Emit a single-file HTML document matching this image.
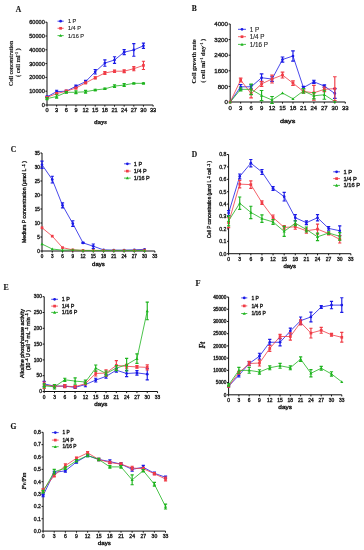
<!DOCTYPE html>
<html><head><meta charset="utf-8"><style>
html,body{margin:0;padding:0;background:#fff;width:364px;height:550px;overflow:hidden}
svg{display:block;will-change:transform}
</style></head><body>
<svg width="364" height="550" viewBox="0 0 364 550">
<rect width="364" height="550" fill="#fff"/>
<path d="M47.00 22.20V105.00H153.09" fill="none" stroke="#111" stroke-width="1.0"/>
<path d="M45.40 105.00H47.00" stroke="#111" stroke-width="1.0"/>
<text x="44.80" y="107.02" font-size="5.6" text-anchor="end" font-weight="normal" font-family='"Liberation Sans", sans-serif' fill="#222" stroke="#222" stroke-width="0.35">0</text>
<path d="M45.40 91.20H47.00" stroke="#111" stroke-width="1.0"/>
<text x="44.80" y="93.22" font-size="5.6" text-anchor="end" font-weight="normal" font-family='"Liberation Sans", sans-serif' fill="#222" stroke="#222" stroke-width="0.35">10000</text>
<path d="M45.40 77.40H47.00" stroke="#111" stroke-width="1.0"/>
<text x="44.80" y="79.42" font-size="5.6" text-anchor="end" font-weight="normal" font-family='"Liberation Sans", sans-serif' fill="#222" stroke="#222" stroke-width="0.35">20000</text>
<path d="M45.40 63.60H47.00" stroke="#111" stroke-width="1.0"/>
<text x="44.80" y="65.62" font-size="5.6" text-anchor="end" font-weight="normal" font-family='"Liberation Sans", sans-serif' fill="#222" stroke="#222" stroke-width="0.35">30000</text>
<path d="M45.40 49.80H47.00" stroke="#111" stroke-width="1.0"/>
<text x="44.80" y="51.82" font-size="5.6" text-anchor="end" font-weight="normal" font-family='"Liberation Sans", sans-serif' fill="#222" stroke="#222" stroke-width="0.35">40000</text>
<path d="M45.40 36.00H47.00" stroke="#111" stroke-width="1.0"/>
<text x="44.80" y="38.02" font-size="5.6" text-anchor="end" font-weight="normal" font-family='"Liberation Sans", sans-serif' fill="#222" stroke="#222" stroke-width="0.35">50000</text>
<path d="M45.40 22.20H47.00" stroke="#111" stroke-width="1.0"/>
<text x="44.80" y="24.22" font-size="5.6" text-anchor="end" font-weight="normal" font-family='"Liberation Sans", sans-serif' fill="#222" stroke="#222" stroke-width="0.35">60000</text>
<path d="M47.00 105.00V106.60" stroke="#111" stroke-width="1.0"/>
<text x="47.00" y="112.22" font-size="5.6" text-anchor="middle" font-weight="normal" font-family='"Liberation Sans", sans-serif' fill="#222" stroke="#222" stroke-width="0.35">0</text>
<path d="M56.64 105.00V106.60" stroke="#111" stroke-width="1.0"/>
<text x="56.64" y="112.22" font-size="5.6" text-anchor="middle" font-weight="normal" font-family='"Liberation Sans", sans-serif' fill="#222" stroke="#222" stroke-width="0.35">3</text>
<path d="M66.29 105.00V106.60" stroke="#111" stroke-width="1.0"/>
<text x="66.29" y="112.22" font-size="5.6" text-anchor="middle" font-weight="normal" font-family='"Liberation Sans", sans-serif' fill="#222" stroke="#222" stroke-width="0.35">6</text>
<path d="M75.94 105.00V106.60" stroke="#111" stroke-width="1.0"/>
<text x="75.94" y="112.22" font-size="5.6" text-anchor="middle" font-weight="normal" font-family='"Liberation Sans", sans-serif' fill="#222" stroke="#222" stroke-width="0.35">9</text>
<path d="M85.58 105.00V106.60" stroke="#111" stroke-width="1.0"/>
<text x="85.58" y="112.22" font-size="5.6" text-anchor="middle" font-weight="normal" font-family='"Liberation Sans", sans-serif' fill="#222" stroke="#222" stroke-width="0.35">12</text>
<path d="M95.22 105.00V106.60" stroke="#111" stroke-width="1.0"/>
<text x="95.22" y="112.22" font-size="5.6" text-anchor="middle" font-weight="normal" font-family='"Liberation Sans", sans-serif' fill="#222" stroke="#222" stroke-width="0.35">15</text>
<path d="M104.87 105.00V106.60" stroke="#111" stroke-width="1.0"/>
<text x="104.87" y="112.22" font-size="5.6" text-anchor="middle" font-weight="normal" font-family='"Liberation Sans", sans-serif' fill="#222" stroke="#222" stroke-width="0.35">18</text>
<path d="M114.52 105.00V106.60" stroke="#111" stroke-width="1.0"/>
<text x="114.52" y="112.22" font-size="5.6" text-anchor="middle" font-weight="normal" font-family='"Liberation Sans", sans-serif' fill="#222" stroke="#222" stroke-width="0.35">21</text>
<path d="M124.16 105.00V106.60" stroke="#111" stroke-width="1.0"/>
<text x="124.16" y="112.22" font-size="5.6" text-anchor="middle" font-weight="normal" font-family='"Liberation Sans", sans-serif' fill="#222" stroke="#222" stroke-width="0.35">24</text>
<path d="M133.81 105.00V106.60" stroke="#111" stroke-width="1.0"/>
<text x="133.81" y="112.22" font-size="5.6" text-anchor="middle" font-weight="normal" font-family='"Liberation Sans", sans-serif' fill="#222" stroke="#222" stroke-width="0.35">27</text>
<path d="M143.45 105.00V106.60" stroke="#111" stroke-width="1.0"/>
<text x="143.45" y="112.22" font-size="5.6" text-anchor="middle" font-weight="normal" font-family='"Liberation Sans", sans-serif' fill="#222" stroke="#222" stroke-width="0.35">30</text>
<path d="M153.09 105.00V106.60" stroke="#111" stroke-width="1.0"/>
<text x="153.09" y="112.22" font-size="5.6" text-anchor="middle" font-weight="normal" font-family='"Liberation Sans", sans-serif' fill="#222" stroke="#222" stroke-width="0.35">33</text>
<text x="100.45" y="124.05" font-size="6.8" text-anchor="middle" font-weight="bold" font-family='"Liberation Serif", serif' fill="#111" stroke="#111" stroke-width="0.25" textLength="12.9" lengthAdjust="spacingAndGlyphs">days</text>
<text x="15.80" y="11.60" font-size="7.5" text-anchor="start" font-weight="bold" font-family='"Liberation Serif", serif' fill="#111" stroke="#111" stroke-width="0.12">A</text>
<path d="M47.00 96.86L56.64 91.61L66.29 91.20L75.94 86.23L85.58 81.68L95.22 71.74L104.87 63.05L114.52 60.01L124.16 52.15L133.81 49.94L143.45 45.80" fill="none" stroke="#1a1ae6" stroke-width="0.8" stroke-linejoin="round"/>
<path d="M47.00 97.41L56.64 93.55L66.29 91.20L75.94 88.03L85.58 82.92L95.22 77.81L104.87 72.98L114.52 71.19L124.16 71.19L133.81 68.71L143.45 65.39" fill="none" stroke="#f03c46" stroke-width="0.8" stroke-linejoin="round"/>
<path d="M47.00 98.65L56.64 96.44L66.29 92.30L75.94 92.30L85.58 91.75L95.22 89.96L104.87 88.85L114.52 86.09L124.16 85.06L133.81 83.33L143.45 83.33" fill="none" stroke="#1eb41e" stroke-width="0.8" stroke-linejoin="round"/>
<path d="M47.00 96.17V97.55M45.40 96.17H48.60M45.40 97.55H48.60" stroke="#1a1ae6" stroke-width="1.15" fill="none"/>
<circle cx="47.00" cy="96.86" r="1.35" fill="#1a1ae6"/>
<path d="M56.64 90.23V92.99M55.04 90.23H58.24M55.04 92.99H58.24" stroke="#1a1ae6" stroke-width="1.15" fill="none"/>
<circle cx="56.64" cy="91.61" r="1.35" fill="#1a1ae6"/>
<path d="M66.29 90.37V92.03M64.69 90.37H67.89M64.69 92.03H67.89" stroke="#1a1ae6" stroke-width="1.15" fill="none"/>
<circle cx="66.29" cy="91.20" r="1.35" fill="#1a1ae6"/>
<path d="M75.94 85.13V87.34M74.34 85.13H77.53M74.34 87.34H77.53" stroke="#1a1ae6" stroke-width="1.15" fill="none"/>
<circle cx="75.94" cy="86.23" r="1.35" fill="#1a1ae6"/>
<path d="M85.58 80.30V83.06M83.98 80.30H87.18M83.98 83.06H87.18" stroke="#1a1ae6" stroke-width="1.15" fill="none"/>
<circle cx="85.58" cy="81.68" r="1.35" fill="#1a1ae6"/>
<path d="M95.22 69.53V73.95M93.62 69.53H96.82M93.62 73.95H96.82" stroke="#1a1ae6" stroke-width="1.15" fill="none"/>
<circle cx="95.22" cy="71.74" r="1.35" fill="#1a1ae6"/>
<path d="M104.87 59.87V66.22M103.27 59.87H106.47M103.27 66.22H106.47" stroke="#1a1ae6" stroke-width="1.15" fill="none"/>
<circle cx="104.87" cy="63.05" r="1.35" fill="#1a1ae6"/>
<path d="M114.52 56.70V63.32M112.92 56.70H116.11M112.92 63.32H116.11" stroke="#1a1ae6" stroke-width="1.15" fill="none"/>
<circle cx="114.52" cy="60.01" r="1.35" fill="#1a1ae6"/>
<path d="M124.16 49.66V54.63M122.56 49.66H125.76M122.56 54.63H125.76" stroke="#1a1ae6" stroke-width="1.15" fill="none"/>
<circle cx="124.16" cy="52.15" r="1.35" fill="#1a1ae6"/>
<path d="M133.81 43.59V56.29M132.21 43.59H135.41M132.21 56.29H135.41" stroke="#1a1ae6" stroke-width="1.15" fill="none"/>
<circle cx="133.81" cy="49.94" r="1.35" fill="#1a1ae6"/>
<path d="M143.45 43.18V48.42M141.85 43.18H145.05M141.85 48.42H145.05" stroke="#1a1ae6" stroke-width="1.15" fill="none"/>
<circle cx="143.45" cy="45.80" r="1.35" fill="#1a1ae6"/>
<path d="M47.00 96.86V97.96M45.40 96.86H48.60M45.40 97.96H48.60" stroke="#f03c46" stroke-width="1.15" fill="none"/>
<rect x="45.65" y="96.06" width="2.70" height="2.70" fill="#f03c46"/>
<path d="M56.64 92.72V94.37M55.04 92.72H58.24M55.04 94.37H58.24" stroke="#f03c46" stroke-width="1.15" fill="none"/>
<rect x="55.29" y="92.20" width="2.70" height="2.70" fill="#f03c46"/>
<path d="M66.29 90.10V92.30M64.69 90.10H67.89M64.69 92.30H67.89" stroke="#f03c46" stroke-width="1.15" fill="none"/>
<rect x="64.94" y="89.85" width="2.70" height="2.70" fill="#f03c46"/>
<path d="M75.94 87.20V88.85M74.34 87.20H77.53M74.34 88.85H77.53" stroke="#f03c46" stroke-width="1.15" fill="none"/>
<rect x="74.59" y="86.68" width="2.70" height="2.70" fill="#f03c46"/>
<path d="M85.58 82.09V83.75M83.98 82.09H87.18M83.98 83.75H87.18" stroke="#f03c46" stroke-width="1.15" fill="none"/>
<rect x="84.23" y="81.57" width="2.70" height="2.70" fill="#f03c46"/>
<path d="M95.22 76.71V78.92M93.62 76.71H96.82M93.62 78.92H96.82" stroke="#f03c46" stroke-width="1.15" fill="none"/>
<rect x="93.88" y="76.46" width="2.70" height="2.70" fill="#f03c46"/>
<path d="M104.87 71.60V74.36M103.27 71.60H106.47M103.27 74.36H106.47" stroke="#f03c46" stroke-width="1.15" fill="none"/>
<rect x="103.52" y="71.63" width="2.70" height="2.70" fill="#f03c46"/>
<path d="M114.52 69.95V72.43M112.92 69.95H116.11M112.92 72.43H116.11" stroke="#f03c46" stroke-width="1.15" fill="none"/>
<rect x="113.17" y="69.84" width="2.70" height="2.70" fill="#f03c46"/>
<path d="M124.16 69.81V72.57M122.56 69.81H125.76M122.56 72.57H125.76" stroke="#f03c46" stroke-width="1.15" fill="none"/>
<rect x="122.81" y="69.84" width="2.70" height="2.70" fill="#f03c46"/>
<path d="M133.81 66.64V70.78M132.21 66.64H135.41M132.21 70.78H135.41" stroke="#f03c46" stroke-width="1.15" fill="none"/>
<rect x="132.46" y="67.36" width="2.70" height="2.70" fill="#f03c46"/>
<path d="M143.45 61.25V69.53M141.85 61.25H145.05M141.85 69.53H145.05" stroke="#f03c46" stroke-width="1.15" fill="none"/>
<rect x="142.10" y="64.04" width="2.70" height="2.70" fill="#f03c46"/>
<path d="M47.00 97.55V99.76M45.40 97.55H48.60M45.40 99.76H48.60" stroke="#1eb41e" stroke-width="1.15" fill="none"/>
<path d="M45.45 99.89L48.55 99.89L47.00 97.10Z" fill="#1eb41e"/>
<path d="M56.64 94.79V98.10M55.04 94.79H58.24M55.04 98.10H58.24" stroke="#1eb41e" stroke-width="1.15" fill="none"/>
<path d="M55.09 97.69L58.20 97.69L56.64 94.89Z" fill="#1eb41e"/>
<path d="M66.29 91.48V93.13M64.69 91.48H67.89M64.69 93.13H67.89" stroke="#1eb41e" stroke-width="1.15" fill="none"/>
<path d="M64.74 93.55L67.84 93.55L66.29 90.75Z" fill="#1eb41e"/>
<path d="M75.94 90.92V93.68M74.34 90.92H77.53M74.34 93.68H77.53" stroke="#1eb41e" stroke-width="1.15" fill="none"/>
<path d="M74.38 93.55L77.49 93.55L75.94 90.75Z" fill="#1eb41e"/>
<path d="M85.58 90.37V93.13M83.98 90.37H87.18M83.98 93.13H87.18" stroke="#1eb41e" stroke-width="1.15" fill="none"/>
<path d="M84.03 92.99L87.13 92.99L85.58 90.20Z" fill="#1eb41e"/>
<path d="M95.22 89.27V90.65M93.62 89.27H96.82M93.62 90.65H96.82" stroke="#1eb41e" stroke-width="1.15" fill="none"/>
<path d="M93.67 91.20L96.78 91.20L95.22 88.41Z" fill="#1eb41e"/>
<path d="M104.87 88.16V89.54M103.27 88.16H106.47M103.27 89.54H106.47" stroke="#1eb41e" stroke-width="1.15" fill="none"/>
<path d="M103.32 90.10L106.42 90.10L104.87 87.30Z" fill="#1eb41e"/>
<path d="M114.52 84.85V87.34M112.92 84.85H116.11M112.92 87.34H116.11" stroke="#1eb41e" stroke-width="1.15" fill="none"/>
<path d="M112.96 87.34L116.07 87.34L114.52 84.54Z" fill="#1eb41e"/>
<path d="M124.16 83.68V86.44M122.56 83.68H125.76M122.56 86.44H125.76" stroke="#1eb41e" stroke-width="1.15" fill="none"/>
<path d="M122.61 86.30L125.71 86.30L124.16 83.51Z" fill="#1eb41e"/>
<path d="M133.81 82.78V83.89M132.21 82.78H135.41M132.21 83.89H135.41" stroke="#1eb41e" stroke-width="1.15" fill="none"/>
<path d="M132.25 84.58L135.36 84.58L133.81 81.78Z" fill="#1eb41e"/>
<path d="M143.45 82.78V83.89M141.85 82.78H145.05M141.85 83.89H145.05" stroke="#1eb41e" stroke-width="1.15" fill="none"/>
<path d="M141.90 84.58L145.00 84.58L143.45 81.78Z" fill="#1eb41e"/>
<path d="M57.50 21.20H63.70" stroke="#1a1ae6" stroke-width="0.8"/>
<circle cx="60.60" cy="21.20" r="1.35" fill="#1a1ae6"/>
<text x="67.90" y="23.22" font-size="5.6" text-anchor="start" font-weight="normal" font-family='"Liberation Sans", sans-serif' fill="#222" stroke="#222" stroke-width="0.12">1 P</text>
<path d="M57.50 28.30H63.70" stroke="#f03c46" stroke-width="0.8"/>
<rect x="59.25" y="26.95" width="2.70" height="2.70" fill="#f03c46"/>
<text x="67.90" y="30.32" font-size="5.6" text-anchor="start" font-weight="normal" font-family='"Liberation Sans", sans-serif' fill="#222" stroke="#222" stroke-width="0.12">1/4 P</text>
<path d="M57.50 35.60H63.70" stroke="#1eb41e" stroke-width="0.8"/>
<path d="M59.05 36.84L62.15 36.84L60.60 34.05Z" fill="#1eb41e"/>
<text x="67.90" y="37.62" font-size="5.6" text-anchor="start" font-weight="normal" font-family='"Liberation Sans", sans-serif' fill="#222" stroke="#222" stroke-width="0.12">1/16 P</text>
<text x="12.60" y="63.40" font-size="5.8" text-anchor="middle" font-weight="bold" font-family='"Liberation Serif", serif' fill="#111" stroke="#111" stroke-width="0.12" textLength="45" lengthAdjust="spacingAndGlyphs" transform="rotate(-90 12.60 63.40)">Cell concentration</text>
<text x="20.40" y="62.70" font-size="5.8" text-anchor="middle" font-weight="bold" font-family='"Liberation Serif", serif' fill="#111" stroke="#111" stroke-width="0.12" textLength="28.6" lengthAdjust="spacingAndGlyphs" transform="rotate(-90 20.40 62.70)">( cell ml<tspan dy="-2" font-size="3.6">-1</tspan><tspan dy="2"> )</tspan></text>
<path d="M230.20 24.00V102.00H345.27" fill="none" stroke="#111" stroke-width="1.0"/>
<path d="M228.60 102.00H230.20" stroke="#111" stroke-width="1.0"/>
<text x="228.00" y="104.23" font-size="6.2" text-anchor="end" font-weight="normal" font-family='"Liberation Sans", sans-serif' fill="#222" stroke="#222" stroke-width="0.35">0</text>
<path d="M228.60 86.40H230.20" stroke="#111" stroke-width="1.0"/>
<text x="228.00" y="88.63" font-size="6.2" text-anchor="end" font-weight="normal" font-family='"Liberation Sans", sans-serif' fill="#222" stroke="#222" stroke-width="0.35">800</text>
<path d="M228.60 70.80H230.20" stroke="#111" stroke-width="1.0"/>
<text x="228.00" y="73.03" font-size="6.2" text-anchor="end" font-weight="normal" font-family='"Liberation Sans", sans-serif' fill="#222" stroke="#222" stroke-width="0.35">1600</text>
<path d="M228.60 55.20H230.20" stroke="#111" stroke-width="1.0"/>
<text x="228.00" y="57.43" font-size="6.2" text-anchor="end" font-weight="normal" font-family='"Liberation Sans", sans-serif' fill="#222" stroke="#222" stroke-width="0.35">2400</text>
<path d="M228.60 39.60H230.20" stroke="#111" stroke-width="1.0"/>
<text x="228.00" y="41.83" font-size="6.2" text-anchor="end" font-weight="normal" font-family='"Liberation Sans", sans-serif' fill="#222" stroke="#222" stroke-width="0.35">3200</text>
<path d="M228.60 24.00H230.20" stroke="#111" stroke-width="1.0"/>
<text x="228.00" y="26.23" font-size="6.2" text-anchor="end" font-weight="normal" font-family='"Liberation Sans", sans-serif' fill="#222" stroke="#222" stroke-width="0.35">4000</text>
<path d="M230.20 102.00V103.60" stroke="#111" stroke-width="1.0"/>
<text x="230.20" y="110.16" font-size="6.0" text-anchor="middle" font-weight="normal" font-family='"Liberation Sans", sans-serif' fill="#222" stroke="#222" stroke-width="0.35">0</text>
<path d="M240.66 102.00V103.60" stroke="#111" stroke-width="1.0"/>
<text x="240.66" y="110.16" font-size="6.0" text-anchor="middle" font-weight="normal" font-family='"Liberation Sans", sans-serif' fill="#222" stroke="#222" stroke-width="0.35">3</text>
<path d="M251.12 102.00V103.60" stroke="#111" stroke-width="1.0"/>
<text x="251.12" y="110.16" font-size="6.0" text-anchor="middle" font-weight="normal" font-family='"Liberation Sans", sans-serif' fill="#222" stroke="#222" stroke-width="0.35">6</text>
<path d="M261.58 102.00V103.60" stroke="#111" stroke-width="1.0"/>
<text x="261.58" y="110.16" font-size="6.0" text-anchor="middle" font-weight="normal" font-family='"Liberation Sans", sans-serif' fill="#222" stroke="#222" stroke-width="0.35">9</text>
<path d="M272.04 102.00V103.60" stroke="#111" stroke-width="1.0"/>
<text x="272.04" y="110.16" font-size="6.0" text-anchor="middle" font-weight="normal" font-family='"Liberation Sans", sans-serif' fill="#222" stroke="#222" stroke-width="0.35">12</text>
<path d="M282.50 102.00V103.60" stroke="#111" stroke-width="1.0"/>
<text x="282.50" y="110.16" font-size="6.0" text-anchor="middle" font-weight="normal" font-family='"Liberation Sans", sans-serif' fill="#222" stroke="#222" stroke-width="0.35">15</text>
<path d="M292.97 102.00V103.60" stroke="#111" stroke-width="1.0"/>
<text x="292.97" y="110.16" font-size="6.0" text-anchor="middle" font-weight="normal" font-family='"Liberation Sans", sans-serif' fill="#222" stroke="#222" stroke-width="0.35">18</text>
<path d="M303.43 102.00V103.60" stroke="#111" stroke-width="1.0"/>
<text x="303.43" y="110.16" font-size="6.0" text-anchor="middle" font-weight="normal" font-family='"Liberation Sans", sans-serif' fill="#222" stroke="#222" stroke-width="0.35">21</text>
<path d="M313.89 102.00V103.60" stroke="#111" stroke-width="1.0"/>
<text x="313.89" y="110.16" font-size="6.0" text-anchor="middle" font-weight="normal" font-family='"Liberation Sans", sans-serif' fill="#222" stroke="#222" stroke-width="0.35">24</text>
<path d="M324.35 102.00V103.60" stroke="#111" stroke-width="1.0"/>
<text x="324.35" y="110.16" font-size="6.0" text-anchor="middle" font-weight="normal" font-family='"Liberation Sans", sans-serif' fill="#222" stroke="#222" stroke-width="0.35">27</text>
<path d="M334.81 102.00V103.60" stroke="#111" stroke-width="1.0"/>
<text x="334.81" y="110.16" font-size="6.0" text-anchor="middle" font-weight="normal" font-family='"Liberation Sans", sans-serif' fill="#222" stroke="#222" stroke-width="0.35">30</text>
<path d="M345.27 102.00V103.60" stroke="#111" stroke-width="1.0"/>
<text x="345.27" y="110.16" font-size="6.0" text-anchor="middle" font-weight="normal" font-family='"Liberation Sans", sans-serif' fill="#222" stroke="#222" stroke-width="0.35">33</text>
<text x="287.74" y="123.12" font-size="5.9" text-anchor="middle" font-weight="normal" font-family='"Liberation Sans", sans-serif' fill="#111" stroke="#111" stroke-width="0.35" textLength="15.2" lengthAdjust="spacingAndGlyphs">days</text>
<text x="191.80" y="11.20" font-size="7.5" text-anchor="start" font-weight="bold" font-family='"Liberation Serif", serif' fill="#111" stroke="#111" stroke-width="0.12">B</text>
<path d="M230.20 102.00L240.66 86.81L251.12 86.81L261.58 77.74L272.04 79.05L282.50 59.53L292.97 56.00L303.43 87.61L313.89 81.78L324.35 86.11L334.81 93.44" fill="none" stroke="#1a1ae6" stroke-width="0.8" stroke-linejoin="round"/>
<path d="M230.20 102.00L240.66 80.06L251.12 93.61L261.58 83.88L272.04 79.05L282.50 75.03L292.97 83.18L303.43 91.43L313.89 92.83L324.35 89.33L334.81 88.62" fill="none" stroke="#f03c46" stroke-width="0.8" stroke-linejoin="round"/>
<path d="M230.20 102.00L240.66 89.33L251.12 89.33L261.58 95.56L272.04 99.99L282.50 93.05L292.97 98.78L303.43 90.92L313.89 95.76L324.35 94.75L334.81 101.49" fill="none" stroke="#1eb41e" stroke-width="0.8" stroke-linejoin="round"/>
<circle cx="230.20" cy="102.00" r="1.35" fill="#1a1ae6"/>
<path d="M240.66 84.47V89.15M238.86 84.47H242.46M238.86 89.15H242.46" stroke="#1a1ae6" stroke-width="1.15" fill="none"/>
<circle cx="240.66" cy="86.81" r="1.35" fill="#1a1ae6"/>
<path d="M251.12 84.86V88.76M249.32 84.86H252.92M249.32 88.76H252.92" stroke="#1a1ae6" stroke-width="1.15" fill="none"/>
<circle cx="251.12" cy="86.81" r="1.35" fill="#1a1ae6"/>
<path d="M261.58 73.84V81.64M259.78 73.84H263.38M259.78 81.64H263.38" stroke="#1a1ae6" stroke-width="1.15" fill="none"/>
<circle cx="261.58" cy="77.74" r="1.35" fill="#1a1ae6"/>
<path d="M272.04 76.71V81.39M270.24 76.71H273.84M270.24 81.39H273.84" stroke="#1a1ae6" stroke-width="1.15" fill="none"/>
<circle cx="272.04" cy="79.05" r="1.35" fill="#1a1ae6"/>
<path d="M282.50 56.99V62.06M280.70 56.99H284.31M280.70 62.06H284.31" stroke="#1a1ae6" stroke-width="1.15" fill="none"/>
<circle cx="282.50" cy="59.53" r="1.35" fill="#1a1ae6"/>
<path d="M292.97 50.93V61.07M291.17 50.93H294.77M291.17 61.07H294.77" stroke="#1a1ae6" stroke-width="1.15" fill="none"/>
<circle cx="292.97" cy="56.00" r="1.35" fill="#1a1ae6"/>
<path d="M303.43 86.44V88.78M301.63 86.44H305.23M301.63 88.78H305.23" stroke="#1a1ae6" stroke-width="1.15" fill="none"/>
<circle cx="303.43" cy="87.61" r="1.35" fill="#1a1ae6"/>
<path d="M313.89 80.22V83.34M312.09 80.22H315.69M312.09 83.34H315.69" stroke="#1a1ae6" stroke-width="1.15" fill="none"/>
<circle cx="313.89" cy="81.78" r="1.35" fill="#1a1ae6"/>
<path d="M324.35 84.94V87.28M322.55 84.94H326.15M322.55 87.28H326.15" stroke="#1a1ae6" stroke-width="1.15" fill="none"/>
<circle cx="324.35" cy="86.11" r="1.35" fill="#1a1ae6"/>
<path d="M334.81 88.56V98.31M333.01 88.56H336.61M333.01 98.31H336.61" stroke="#1a1ae6" stroke-width="1.15" fill="none"/>
<circle cx="334.81" cy="93.44" r="1.35" fill="#1a1ae6"/>
<rect x="228.85" y="100.65" width="2.70" height="2.70" fill="#f03c46"/>
<path d="M240.66 78.11V82.01M238.86 78.11H242.46M238.86 82.01H242.46" stroke="#f03c46" stroke-width="1.15" fill="none"/>
<rect x="239.31" y="78.71" width="2.70" height="2.70" fill="#f03c46"/>
<path d="M251.12 89.33V97.91M249.32 89.33H252.92M249.32 97.91H252.92" stroke="#f03c46" stroke-width="1.15" fill="none"/>
<rect x="249.77" y="92.27" width="2.70" height="2.70" fill="#f03c46"/>
<path d="M261.58 81.35V86.42M259.78 81.35H263.38M259.78 86.42H263.38" stroke="#f03c46" stroke-width="1.15" fill="none"/>
<rect x="260.23" y="82.53" width="2.70" height="2.70" fill="#f03c46"/>
<path d="M272.04 75.15V82.95M270.24 75.15H273.84M270.24 82.95H273.84" stroke="#f03c46" stroke-width="1.15" fill="none"/>
<rect x="270.69" y="77.70" width="2.70" height="2.70" fill="#f03c46"/>
<path d="M282.50 72.11V77.96M280.70 72.11H284.31M280.70 77.96H284.31" stroke="#f03c46" stroke-width="1.15" fill="none"/>
<rect x="281.15" y="73.68" width="2.70" height="2.70" fill="#f03c46"/>
<path d="M292.97 80.84V85.52M291.17 80.84H294.77M291.17 85.52H294.77" stroke="#f03c46" stroke-width="1.15" fill="none"/>
<rect x="291.62" y="81.83" width="2.70" height="2.70" fill="#f03c46"/>
<path d="M303.43 90.07V92.80M301.63 90.07H305.23M301.63 92.80H305.23" stroke="#f03c46" stroke-width="1.15" fill="none"/>
<rect x="302.08" y="90.08" width="2.70" height="2.70" fill="#f03c46"/>
<path d="M313.89 85.42V100.25M312.09 85.42H315.69M312.09 100.25H315.69" stroke="#f03c46" stroke-width="1.15" fill="none"/>
<rect x="312.54" y="91.48" width="2.70" height="2.70" fill="#f03c46"/>
<path d="M324.35 86.98V91.67M322.55 86.98H326.15M322.55 91.67H326.15" stroke="#f03c46" stroke-width="1.15" fill="none"/>
<rect x="323.00" y="87.98" width="2.70" height="2.70" fill="#f03c46"/>
<path d="M334.81 76.73V100.52M333.01 76.73H336.61M333.01 100.52H336.61" stroke="#f03c46" stroke-width="1.15" fill="none"/>
<rect x="333.46" y="87.27" width="2.70" height="2.70" fill="#f03c46"/>
<path d="M228.65 103.24L231.75 103.24L230.20 100.45Z" fill="#1eb41e"/>
<path d="M240.66 87.77V90.89M238.86 87.77H242.46M238.86 90.89H242.46" stroke="#1eb41e" stroke-width="1.15" fill="none"/>
<path d="M239.11 90.57L242.21 90.57L240.66 87.77Z" fill="#1eb41e"/>
<path d="M251.12 84.06V94.59M249.32 84.06H252.92M249.32 94.59H252.92" stroke="#1eb41e" stroke-width="1.15" fill="none"/>
<path d="M249.57 90.57L252.67 90.57L251.12 87.77Z" fill="#1eb41e"/>
<path d="M261.58 90.50V100.64M259.78 90.50H263.38M259.78 100.64H263.38" stroke="#1eb41e" stroke-width="1.15" fill="none"/>
<path d="M260.03 96.81L263.14 96.81L261.58 94.01Z" fill="#1eb41e"/>
<path d="M272.04 96.48V103.50M270.24 96.48H273.84M270.24 103.50H273.84" stroke="#1eb41e" stroke-width="1.15" fill="none"/>
<path d="M270.49 101.23L273.60 101.23L272.04 98.44Z" fill="#1eb41e"/>
<path d="M280.95 94.29L284.06 94.29L282.50 91.50Z" fill="#1eb41e"/>
<path d="M291.41 100.02L294.52 100.02L292.97 97.23Z" fill="#1eb41e"/>
<path d="M303.43 88.58V93.26M301.63 88.58H305.23M301.63 93.26H305.23" stroke="#1eb41e" stroke-width="1.15" fill="none"/>
<path d="M301.87 92.17L304.98 92.17L303.43 89.37Z" fill="#1eb41e"/>
<path d="M313.89 92.64V98.88M312.09 92.64H315.69M312.09 98.88H315.69" stroke="#1eb41e" stroke-width="1.15" fill="none"/>
<path d="M312.34 97.00L315.44 97.00L313.89 94.21Z" fill="#1eb41e"/>
<path d="M324.35 90.26V99.23M322.55 90.26H326.15M322.55 99.23H326.15" stroke="#1eb41e" stroke-width="1.15" fill="none"/>
<path d="M322.80 95.99L325.90 95.99L324.35 93.19Z" fill="#1eb41e"/>
<path d="M333.26 102.73L336.36 102.73L334.81 99.94Z" fill="#1eb41e"/>
<path d="M238.00 29.30H246.00" stroke="#1a1ae6" stroke-width="0.8"/>
<circle cx="242.00" cy="29.30" r="1.35" fill="#1a1ae6"/>
<text x="249.80" y="31.57" font-size="6.3" text-anchor="start" font-weight="normal" font-family='"Liberation Sans", sans-serif' fill="#222" stroke="#222" stroke-width="0.12">1 P</text>
<path d="M238.00 36.70H246.00" stroke="#f03c46" stroke-width="0.8"/>
<rect x="240.65" y="35.35" width="2.70" height="2.70" fill="#f03c46"/>
<text x="249.80" y="38.97" font-size="6.3" text-anchor="start" font-weight="normal" font-family='"Liberation Sans", sans-serif' fill="#222" stroke="#222" stroke-width="0.12">1/4 P</text>
<path d="M238.00 44.40H246.00" stroke="#1eb41e" stroke-width="0.8"/>
<path d="M240.45 45.64L243.55 45.64L242.00 42.85Z" fill="#1eb41e"/>
<text x="249.80" y="46.67" font-size="6.3" text-anchor="start" font-weight="normal" font-family='"Liberation Sans", sans-serif' fill="#222" stroke="#222" stroke-width="0.12">1/16 P</text>
<text x="195.60" y="61.45" font-size="5.8" text-anchor="middle" font-weight="bold" font-family='"Liberation Serif", serif' fill="#111" stroke="#111" stroke-width="0.12" textLength="44" lengthAdjust="spacingAndGlyphs" transform="rotate(-90 195.60 61.45)">Cell growth rate</text>
<text x="205.00" y="60.80" font-size="5.8" text-anchor="middle" font-weight="bold" font-family='"Liberation Serif", serif' fill="#111" stroke="#111" stroke-width="0.12" textLength="44" lengthAdjust="spacingAndGlyphs" transform="rotate(-90 205.00 60.80)">( cell ml<tspan dy="-2" font-size="3.6">-1</tspan><tspan dy="2"> day</tspan><tspan dy="-2" font-size="3.6">-1</tspan><tspan dy="2"> )</tspan></text>
<path d="M42.00 153.00V251.00H154.86" fill="none" stroke="#111" stroke-width="1.0"/>
<path d="M40.40 251.00H42.00" stroke="#111" stroke-width="1.0"/>
<text x="39.80" y="252.66" font-size="4.6" text-anchor="end" font-weight="normal" font-family='"Liberation Sans", sans-serif' fill="#222" stroke="#222" stroke-width="0.35">0</text>
<path d="M40.40 237.00H42.00" stroke="#111" stroke-width="1.0"/>
<text x="39.80" y="238.66" font-size="4.6" text-anchor="end" font-weight="normal" font-family='"Liberation Sans", sans-serif' fill="#222" stroke="#222" stroke-width="0.35">5</text>
<path d="M40.40 223.00H42.00" stroke="#111" stroke-width="1.0"/>
<text x="39.80" y="224.66" font-size="4.6" text-anchor="end" font-weight="normal" font-family='"Liberation Sans", sans-serif' fill="#222" stroke="#222" stroke-width="0.35">10</text>
<path d="M40.40 209.00H42.00" stroke="#111" stroke-width="1.0"/>
<text x="39.80" y="210.66" font-size="4.6" text-anchor="end" font-weight="normal" font-family='"Liberation Sans", sans-serif' fill="#222" stroke="#222" stroke-width="0.35">15</text>
<path d="M40.40 195.00H42.00" stroke="#111" stroke-width="1.0"/>
<text x="39.80" y="196.66" font-size="4.6" text-anchor="end" font-weight="normal" font-family='"Liberation Sans", sans-serif' fill="#222" stroke="#222" stroke-width="0.35">20</text>
<path d="M40.40 181.00H42.00" stroke="#111" stroke-width="1.0"/>
<text x="39.80" y="182.66" font-size="4.6" text-anchor="end" font-weight="normal" font-family='"Liberation Sans", sans-serif' fill="#222" stroke="#222" stroke-width="0.35">25</text>
<path d="M40.40 167.00H42.00" stroke="#111" stroke-width="1.0"/>
<text x="39.80" y="168.66" font-size="4.6" text-anchor="end" font-weight="normal" font-family='"Liberation Sans", sans-serif' fill="#222" stroke="#222" stroke-width="0.35">30</text>
<path d="M40.40 153.00H42.00" stroke="#111" stroke-width="1.0"/>
<text x="39.80" y="154.66" font-size="4.6" text-anchor="end" font-weight="normal" font-family='"Liberation Sans", sans-serif' fill="#222" stroke="#222" stroke-width="0.35">35</text>
<path d="M42.00 251.00V252.60" stroke="#111" stroke-width="1.0"/>
<text x="42.00" y="257.66" font-size="4.6" text-anchor="middle" font-weight="normal" font-family='"Liberation Sans", sans-serif' fill="#222" stroke="#222" stroke-width="0.35">0</text>
<path d="M52.26 251.00V252.60" stroke="#111" stroke-width="1.0"/>
<text x="52.26" y="257.66" font-size="4.6" text-anchor="middle" font-weight="normal" font-family='"Liberation Sans", sans-serif' fill="#222" stroke="#222" stroke-width="0.35">3</text>
<path d="M62.52 251.00V252.60" stroke="#111" stroke-width="1.0"/>
<text x="62.52" y="257.66" font-size="4.6" text-anchor="middle" font-weight="normal" font-family='"Liberation Sans", sans-serif' fill="#222" stroke="#222" stroke-width="0.35">6</text>
<path d="M72.78 251.00V252.60" stroke="#111" stroke-width="1.0"/>
<text x="72.78" y="257.66" font-size="4.6" text-anchor="middle" font-weight="normal" font-family='"Liberation Sans", sans-serif' fill="#222" stroke="#222" stroke-width="0.35">9</text>
<path d="M83.04 251.00V252.60" stroke="#111" stroke-width="1.0"/>
<text x="83.04" y="257.66" font-size="4.6" text-anchor="middle" font-weight="normal" font-family='"Liberation Sans", sans-serif' fill="#222" stroke="#222" stroke-width="0.35">12</text>
<path d="M93.30 251.00V252.60" stroke="#111" stroke-width="1.0"/>
<text x="93.30" y="257.66" font-size="4.6" text-anchor="middle" font-weight="normal" font-family='"Liberation Sans", sans-serif' fill="#222" stroke="#222" stroke-width="0.35">15</text>
<path d="M103.56 251.00V252.60" stroke="#111" stroke-width="1.0"/>
<text x="103.56" y="257.66" font-size="4.6" text-anchor="middle" font-weight="normal" font-family='"Liberation Sans", sans-serif' fill="#222" stroke="#222" stroke-width="0.35">18</text>
<path d="M113.82 251.00V252.60" stroke="#111" stroke-width="1.0"/>
<text x="113.82" y="257.66" font-size="4.6" text-anchor="middle" font-weight="normal" font-family='"Liberation Sans", sans-serif' fill="#222" stroke="#222" stroke-width="0.35">21</text>
<path d="M124.08 251.00V252.60" stroke="#111" stroke-width="1.0"/>
<text x="124.08" y="257.66" font-size="4.6" text-anchor="middle" font-weight="normal" font-family='"Liberation Sans", sans-serif' fill="#222" stroke="#222" stroke-width="0.35">24</text>
<path d="M134.34 251.00V252.60" stroke="#111" stroke-width="1.0"/>
<text x="134.34" y="257.66" font-size="4.6" text-anchor="middle" font-weight="normal" font-family='"Liberation Sans", sans-serif' fill="#222" stroke="#222" stroke-width="0.35">27</text>
<path d="M144.60 251.00V252.60" stroke="#111" stroke-width="1.0"/>
<text x="144.60" y="257.66" font-size="4.6" text-anchor="middle" font-weight="normal" font-family='"Liberation Sans", sans-serif' fill="#222" stroke="#222" stroke-width="0.35">30</text>
<path d="M154.86 251.00V252.60" stroke="#111" stroke-width="1.0"/>
<text x="154.86" y="257.66" font-size="4.6" text-anchor="middle" font-weight="normal" font-family='"Liberation Sans", sans-serif' fill="#222" stroke="#222" stroke-width="0.35">33</text>
<text x="98.43" y="266.02" font-size="5.6" text-anchor="middle" font-weight="normal" font-family='"Liberation Sans", sans-serif' fill="#111" stroke="#111" stroke-width="0.35" textLength="12.76" lengthAdjust="spacingAndGlyphs">days</text>
<text x="10.80" y="152.00" font-size="7.5" text-anchor="start" font-weight="bold" font-family='"Liberation Serif", serif' fill="#111" stroke="#111" stroke-width="0.12">C</text>
<path d="M42.00 164.76L52.26 179.60L62.52 205.36L72.78 223.56L83.04 242.88L93.30 246.24L103.56 249.88L113.82 250.16L124.08 250.16L134.34 249.88L144.60 249.32" fill="none" stroke="#1a1ae6" stroke-width="0.8" stroke-linejoin="round"/>
<path d="M42.00 227.76L52.26 236.16L62.52 247.64L72.78 249.88L83.04 250.44L93.30 250.44L103.56 250.44L113.82 250.44L124.08 250.44L134.34 250.44L144.60 250.16" fill="none" stroke="#f03c46" stroke-width="0.8" stroke-linejoin="round"/>
<path d="M42.00 244.00L52.26 249.04L62.52 250.16L72.78 249.88L83.04 250.44L93.30 250.44L103.56 250.44L113.82 250.44L124.08 250.44L134.34 250.44L144.60 250.44" fill="none" stroke="#1eb41e" stroke-width="0.8" stroke-linejoin="round"/>
<path d="M42.00 161.12V168.40M40.40 161.12H43.60M40.40 168.40H43.60" stroke="#1a1ae6" stroke-width="1.15" fill="none"/>
<circle cx="42.00" cy="164.76" r="1.35" fill="#1a1ae6"/>
<path d="M52.26 176.24V182.96M50.66 176.24H53.86M50.66 182.96H53.86" stroke="#1a1ae6" stroke-width="1.15" fill="none"/>
<circle cx="52.26" cy="179.60" r="1.35" fill="#1a1ae6"/>
<path d="M62.52 202.84V207.88M60.92 202.84H64.12M60.92 207.88H64.12" stroke="#1a1ae6" stroke-width="1.15" fill="none"/>
<circle cx="62.52" cy="205.36" r="1.35" fill="#1a1ae6"/>
<path d="M72.78 220.76V226.36M71.18 220.76H74.38M71.18 226.36H74.38" stroke="#1a1ae6" stroke-width="1.15" fill="none"/>
<circle cx="72.78" cy="223.56" r="1.35" fill="#1a1ae6"/>
<path d="M83.04 242.32V243.44M81.44 242.32H84.64M81.44 243.44H84.64" stroke="#1a1ae6" stroke-width="1.15" fill="none"/>
<circle cx="83.04" cy="242.88" r="1.35" fill="#1a1ae6"/>
<path d="M93.30 244.00V248.48M91.70 244.00H94.90M91.70 248.48H94.90" stroke="#1a1ae6" stroke-width="1.15" fill="none"/>
<circle cx="93.30" cy="246.24" r="1.35" fill="#1a1ae6"/>
<circle cx="103.56" cy="249.88" r="1.35" fill="#1a1ae6"/>
<circle cx="113.82" cy="250.16" r="1.35" fill="#1a1ae6"/>
<circle cx="124.08" cy="250.16" r="1.35" fill="#1a1ae6"/>
<circle cx="134.34" cy="249.88" r="1.35" fill="#1a1ae6"/>
<circle cx="144.60" cy="249.32" r="1.35" fill="#1a1ae6"/>
<rect x="40.65" y="226.41" width="2.70" height="2.70" fill="#f03c46"/>
<rect x="50.91" y="234.81" width="2.70" height="2.70" fill="#f03c46"/>
<rect x="61.17" y="246.29" width="2.70" height="2.70" fill="#f03c46"/>
<rect x="71.43" y="248.53" width="2.70" height="2.70" fill="#f03c46"/>
<rect x="81.69" y="249.09" width="2.70" height="2.70" fill="#f03c46"/>
<rect x="91.95" y="249.09" width="2.70" height="2.70" fill="#f03c46"/>
<rect x="102.21" y="249.09" width="2.70" height="2.70" fill="#f03c46"/>
<rect x="112.47" y="249.09" width="2.70" height="2.70" fill="#f03c46"/>
<rect x="122.73" y="249.09" width="2.70" height="2.70" fill="#f03c46"/>
<rect x="132.99" y="249.09" width="2.70" height="2.70" fill="#f03c46"/>
<rect x="143.25" y="248.81" width="2.70" height="2.70" fill="#f03c46"/>
<path d="M40.45 245.24L43.55 245.24L42.00 242.45Z" fill="#1eb41e"/>
<path d="M50.71 250.28L53.81 250.28L52.26 247.49Z" fill="#1eb41e"/>
<path d="M60.97 251.40L64.07 251.40L62.52 248.61Z" fill="#1eb41e"/>
<path d="M71.23 251.12L74.33 251.12L72.78 248.33Z" fill="#1eb41e"/>
<path d="M81.49 251.68L84.59 251.68L83.04 248.89Z" fill="#1eb41e"/>
<path d="M91.75 251.68L94.85 251.68L93.30 248.89Z" fill="#1eb41e"/>
<path d="M102.01 251.68L105.11 251.68L103.56 248.89Z" fill="#1eb41e"/>
<path d="M112.27 251.68L115.37 251.68L113.82 248.89Z" fill="#1eb41e"/>
<path d="M122.53 251.68L125.63 251.68L124.08 248.89Z" fill="#1eb41e"/>
<path d="M132.79 251.68L135.89 251.68L134.34 248.89Z" fill="#1eb41e"/>
<path d="M143.05 251.68L146.15 251.68L144.60 248.89Z" fill="#1eb41e"/>
<path d="M124.00 163.80H130.70" stroke="#1a1ae6" stroke-width="0.8"/>
<circle cx="127.35" cy="163.80" r="1.35" fill="#1a1ae6"/>
<text x="133.80" y="165.78" font-size="5.5" text-anchor="start" font-weight="normal" font-family='"Liberation Sans", sans-serif' fill="#222" stroke="#222" stroke-width="0.35">1 P</text>
<path d="M124.00 171.10H130.70" stroke="#f03c46" stroke-width="0.8"/>
<rect x="126.00" y="169.75" width="2.70" height="2.70" fill="#f03c46"/>
<text x="133.80" y="173.08" font-size="5.5" text-anchor="start" font-weight="normal" font-family='"Liberation Sans", sans-serif' fill="#222" stroke="#222" stroke-width="0.35">1/4 P</text>
<path d="M124.00 178.10H130.70" stroke="#1eb41e" stroke-width="0.8"/>
<path d="M125.80 179.34L128.90 179.34L127.35 176.55Z" fill="#1eb41e"/>
<text x="133.80" y="180.08" font-size="5.5" text-anchor="start" font-weight="normal" font-family='"Liberation Sans", sans-serif' fill="#222" stroke="#222" stroke-width="0.35">1/16 P</text>
<text x="26.20" y="202.00" font-size="4.6" text-anchor="middle" font-weight="normal" font-family='"Liberation Sans", sans-serif' fill="#111" stroke="#111" stroke-width="0.3" textLength="82" lengthAdjust="spacingAndGlyphs" transform="rotate(-90 26.20 202.00)">Medium P concentration (µmol L<tspan dy="-1.6" font-size="3.4"> -1</tspan><tspan dy="1.6"> )</tspan></text>
<path d="M228.60 154.50V253.70H350.87" fill="none" stroke="#111" stroke-width="1.0"/>
<path d="M227.00 253.70H228.60" stroke="#111" stroke-width="1.0"/>
<text x="226.40" y="255.57" font-size="5.2" text-anchor="end" font-weight="normal" font-family='"Liberation Sans", sans-serif' fill="#222" stroke="#222" stroke-width="0.35">0.0</text>
<path d="M227.00 241.30H228.60" stroke="#111" stroke-width="1.0"/>
<text x="226.40" y="243.17" font-size="5.2" text-anchor="end" font-weight="normal" font-family='"Liberation Sans", sans-serif' fill="#222" stroke="#222" stroke-width="0.35">0.1</text>
<path d="M227.00 228.90H228.60" stroke="#111" stroke-width="1.0"/>
<text x="226.40" y="230.77" font-size="5.2" text-anchor="end" font-weight="normal" font-family='"Liberation Sans", sans-serif' fill="#222" stroke="#222" stroke-width="0.35">0.2</text>
<path d="M227.00 216.50H228.60" stroke="#111" stroke-width="1.0"/>
<text x="226.40" y="218.37" font-size="5.2" text-anchor="end" font-weight="normal" font-family='"Liberation Sans", sans-serif' fill="#222" stroke="#222" stroke-width="0.35">0.3</text>
<path d="M227.00 204.10H228.60" stroke="#111" stroke-width="1.0"/>
<text x="226.40" y="205.97" font-size="5.2" text-anchor="end" font-weight="normal" font-family='"Liberation Sans", sans-serif' fill="#222" stroke="#222" stroke-width="0.35">0.4</text>
<path d="M227.00 191.70H228.60" stroke="#111" stroke-width="1.0"/>
<text x="226.40" y="193.57" font-size="5.2" text-anchor="end" font-weight="normal" font-family='"Liberation Sans", sans-serif' fill="#222" stroke="#222" stroke-width="0.35">0.5</text>
<path d="M227.00 179.30H228.60" stroke="#111" stroke-width="1.0"/>
<text x="226.40" y="181.17" font-size="5.2" text-anchor="end" font-weight="normal" font-family='"Liberation Sans", sans-serif' fill="#222" stroke="#222" stroke-width="0.35">0.6</text>
<path d="M227.00 166.90H228.60" stroke="#111" stroke-width="1.0"/>
<text x="226.40" y="168.77" font-size="5.2" text-anchor="end" font-weight="normal" font-family='"Liberation Sans", sans-serif' fill="#222" stroke="#222" stroke-width="0.35">0.7</text>
<path d="M227.00 154.50H228.60" stroke="#111" stroke-width="1.0"/>
<text x="226.40" y="156.37" font-size="5.2" text-anchor="end" font-weight="normal" font-family='"Liberation Sans", sans-serif' fill="#222" stroke="#222" stroke-width="0.35">0.8</text>
<path d="M228.60 253.70V255.30" stroke="#111" stroke-width="1.0"/>
<text x="228.60" y="261.30" font-size="5.0" text-anchor="middle" font-weight="normal" font-family='"Liberation Sans", sans-serif' fill="#222" stroke="#222" stroke-width="0.35">0</text>
<path d="M239.72 253.70V255.30" stroke="#111" stroke-width="1.0"/>
<text x="239.72" y="261.30" font-size="5.0" text-anchor="middle" font-weight="normal" font-family='"Liberation Sans", sans-serif' fill="#222" stroke="#222" stroke-width="0.35">3</text>
<path d="M250.83 253.70V255.30" stroke="#111" stroke-width="1.0"/>
<text x="250.83" y="261.30" font-size="5.0" text-anchor="middle" font-weight="normal" font-family='"Liberation Sans", sans-serif' fill="#222" stroke="#222" stroke-width="0.35">6</text>
<path d="M261.94 253.70V255.30" stroke="#111" stroke-width="1.0"/>
<text x="261.94" y="261.30" font-size="5.0" text-anchor="middle" font-weight="normal" font-family='"Liberation Sans", sans-serif' fill="#222" stroke="#222" stroke-width="0.35">9</text>
<path d="M273.06 253.70V255.30" stroke="#111" stroke-width="1.0"/>
<text x="273.06" y="261.30" font-size="5.0" text-anchor="middle" font-weight="normal" font-family='"Liberation Sans", sans-serif' fill="#222" stroke="#222" stroke-width="0.35">12</text>
<path d="M284.18 253.70V255.30" stroke="#111" stroke-width="1.0"/>
<text x="284.18" y="261.30" font-size="5.0" text-anchor="middle" font-weight="normal" font-family='"Liberation Sans", sans-serif' fill="#222" stroke="#222" stroke-width="0.35">15</text>
<path d="M295.29 253.70V255.30" stroke="#111" stroke-width="1.0"/>
<text x="295.29" y="261.30" font-size="5.0" text-anchor="middle" font-weight="normal" font-family='"Liberation Sans", sans-serif' fill="#222" stroke="#222" stroke-width="0.35">18</text>
<path d="M306.40 253.70V255.30" stroke="#111" stroke-width="1.0"/>
<text x="306.40" y="261.30" font-size="5.0" text-anchor="middle" font-weight="normal" font-family='"Liberation Sans", sans-serif' fill="#222" stroke="#222" stroke-width="0.35">21</text>
<path d="M317.52 253.70V255.30" stroke="#111" stroke-width="1.0"/>
<text x="317.52" y="261.30" font-size="5.0" text-anchor="middle" font-weight="normal" font-family='"Liberation Sans", sans-serif' fill="#222" stroke="#222" stroke-width="0.35">24</text>
<path d="M328.63 253.70V255.30" stroke="#111" stroke-width="1.0"/>
<text x="328.63" y="261.30" font-size="5.0" text-anchor="middle" font-weight="normal" font-family='"Liberation Sans", sans-serif' fill="#222" stroke="#222" stroke-width="0.35">27</text>
<path d="M339.75 253.70V255.30" stroke="#111" stroke-width="1.0"/>
<text x="339.75" y="261.30" font-size="5.0" text-anchor="middle" font-weight="normal" font-family='"Liberation Sans", sans-serif' fill="#222" stroke="#222" stroke-width="0.35">30</text>
<path d="M350.87 253.70V255.30" stroke="#111" stroke-width="1.0"/>
<text x="350.87" y="261.30" font-size="5.0" text-anchor="middle" font-weight="normal" font-family='"Liberation Sans", sans-serif' fill="#222" stroke="#222" stroke-width="0.35">33</text>
<text x="289.73" y="268.38" font-size="5.5" text-anchor="middle" font-weight="normal" font-family='"Liberation Sans", sans-serif' fill="#111" stroke="#111" stroke-width="0.35" textLength="12.53" lengthAdjust="spacingAndGlyphs">days</text>
<text x="191.80" y="157.20" font-size="7.5" text-anchor="start" font-weight="bold" font-family='"Liberation Serif", serif' fill="#111" stroke="#111" stroke-width="0.12">D</text>
<path d="M228.60 213.03L239.72 176.45L250.83 163.18L261.94 171.98L273.06 188.48L284.18 196.66L295.29 217.74L306.40 222.70L317.52 217.74L328.63 228.40L339.75 230.76" fill="none" stroke="#1a1ae6" stroke-width="0.8" stroke-linejoin="round"/>
<path d="M228.60 222.70L239.72 184.14L250.83 184.63L261.94 202.61L273.06 217.49L284.18 227.41L295.29 226.79L306.40 230.76L317.52 229.15L328.63 233.61L339.75 239.32" fill="none" stroke="#f03c46" stroke-width="0.8" stroke-linejoin="round"/>
<path d="M228.60 220.84L239.72 203.23L250.83 212.41L261.94 218.61L273.06 221.96L284.18 231.38L295.29 223.20L306.40 229.52L317.52 236.84L328.63 232.99L339.75 236.34" fill="none" stroke="#1eb41e" stroke-width="0.8" stroke-linejoin="round"/>
<path d="M228.60 210.55V215.51M227.00 210.55H230.20M227.00 215.51H230.20" stroke="#1a1ae6" stroke-width="1.15" fill="none"/>
<circle cx="228.60" cy="213.03" r="1.35" fill="#1a1ae6"/>
<path d="M239.72 173.97V178.93M238.12 173.97H241.31M238.12 178.93H241.31" stroke="#1a1ae6" stroke-width="1.15" fill="none"/>
<circle cx="239.72" cy="176.45" r="1.35" fill="#1a1ae6"/>
<path d="M250.83 159.46V166.90M249.23 159.46H252.43M249.23 166.90H252.43" stroke="#1a1ae6" stroke-width="1.15" fill="none"/>
<circle cx="250.83" cy="163.18" r="1.35" fill="#1a1ae6"/>
<path d="M261.94 169.50V174.46M260.34 169.50H263.55M260.34 174.46H263.55" stroke="#1a1ae6" stroke-width="1.15" fill="none"/>
<circle cx="261.94" cy="171.98" r="1.35" fill="#1a1ae6"/>
<path d="M273.06 186.62V190.34M271.46 186.62H274.66M271.46 190.34H274.66" stroke="#1a1ae6" stroke-width="1.15" fill="none"/>
<circle cx="273.06" cy="188.48" r="1.35" fill="#1a1ae6"/>
<path d="M284.18 192.32V201.00M282.57 192.32H285.78M282.57 201.00H285.78" stroke="#1a1ae6" stroke-width="1.15" fill="none"/>
<circle cx="284.18" cy="196.66" r="1.35" fill="#1a1ae6"/>
<path d="M295.29 214.64V220.84M293.69 214.64H296.89M293.69 220.84H296.89" stroke="#1a1ae6" stroke-width="1.15" fill="none"/>
<circle cx="295.29" cy="217.74" r="1.35" fill="#1a1ae6"/>
<path d="M306.40 220.84V224.56M304.80 220.84H308.00M304.80 224.56H308.00" stroke="#1a1ae6" stroke-width="1.15" fill="none"/>
<circle cx="306.40" cy="222.70" r="1.35" fill="#1a1ae6"/>
<path d="M317.52 214.64V220.84M315.92 214.64H319.12M315.92 220.84H319.12" stroke="#1a1ae6" stroke-width="1.15" fill="none"/>
<circle cx="317.52" cy="217.74" r="1.35" fill="#1a1ae6"/>
<path d="M328.63 226.54V230.26M327.03 226.54H330.24M327.03 230.26H330.24" stroke="#1a1ae6" stroke-width="1.15" fill="none"/>
<circle cx="328.63" cy="228.40" r="1.35" fill="#1a1ae6"/>
<path d="M339.75 225.80V235.72M338.15 225.80H341.35M338.15 235.72H341.35" stroke="#1a1ae6" stroke-width="1.15" fill="none"/>
<circle cx="339.75" cy="230.76" r="1.35" fill="#1a1ae6"/>
<path d="M228.60 217.74V227.66M227.00 217.74H230.20M227.00 227.66H230.20" stroke="#f03c46" stroke-width="1.15" fill="none"/>
<rect x="227.25" y="221.35" width="2.70" height="2.70" fill="#f03c46"/>
<path d="M239.72 180.42V187.86M238.12 180.42H241.31M238.12 187.86H241.31" stroke="#f03c46" stroke-width="1.15" fill="none"/>
<rect x="238.37" y="182.79" width="2.70" height="2.70" fill="#f03c46"/>
<path d="M250.83 180.91V188.35M249.23 180.91H252.43M249.23 188.35H252.43" stroke="#f03c46" stroke-width="1.15" fill="none"/>
<rect x="249.48" y="183.28" width="2.70" height="2.70" fill="#f03c46"/>
<path d="M261.94 200.75V204.47M260.34 200.75H263.55M260.34 204.47H263.55" stroke="#f03c46" stroke-width="1.15" fill="none"/>
<rect x="260.59" y="201.26" width="2.70" height="2.70" fill="#f03c46"/>
<path d="M273.06 215.01V219.97M271.46 215.01H274.66M271.46 219.97H274.66" stroke="#f03c46" stroke-width="1.15" fill="none"/>
<rect x="271.71" y="216.14" width="2.70" height="2.70" fill="#f03c46"/>
<path d="M284.18 225.55V229.27M282.57 225.55H285.78M282.57 229.27H285.78" stroke="#f03c46" stroke-width="1.15" fill="none"/>
<rect x="282.82" y="226.06" width="2.70" height="2.70" fill="#f03c46"/>
<path d="M295.29 224.31V229.27M293.69 224.31H296.89M293.69 229.27H296.89" stroke="#f03c46" stroke-width="1.15" fill="none"/>
<rect x="293.94" y="225.44" width="2.70" height="2.70" fill="#f03c46"/>
<path d="M306.40 228.28V233.24M304.80 228.28H308.00M304.80 233.24H308.00" stroke="#f03c46" stroke-width="1.15" fill="none"/>
<rect x="305.05" y="229.41" width="2.70" height="2.70" fill="#f03c46"/>
<path d="M317.52 224.19V234.11M315.92 224.19H319.12M315.92 234.11H319.12" stroke="#f03c46" stroke-width="1.15" fill="none"/>
<rect x="316.17" y="227.80" width="2.70" height="2.70" fill="#f03c46"/>
<path d="M328.63 232.37V234.85M327.03 232.37H330.24M327.03 234.85H330.24" stroke="#f03c46" stroke-width="1.15" fill="none"/>
<rect x="327.28" y="232.26" width="2.70" height="2.70" fill="#f03c46"/>
<path d="M339.75 235.60V243.04M338.15 235.60H341.35M338.15 243.04H341.35" stroke="#f03c46" stroke-width="1.15" fill="none"/>
<rect x="338.40" y="237.97" width="2.70" height="2.70" fill="#f03c46"/>
<path d="M228.60 215.88V225.80M227.00 215.88H230.20M227.00 225.80H230.20" stroke="#1eb41e" stroke-width="1.15" fill="none"/>
<path d="M227.05 222.08L230.15 222.08L228.60 219.29Z" fill="#1eb41e"/>
<path d="M239.72 197.03V209.43M238.12 197.03H241.31M238.12 209.43H241.31" stroke="#1eb41e" stroke-width="1.15" fill="none"/>
<path d="M238.16 204.47L241.27 204.47L239.72 201.68Z" fill="#1eb41e"/>
<path d="M250.83 206.21V218.61M249.23 206.21H252.43M249.23 218.61H252.43" stroke="#1eb41e" stroke-width="1.15" fill="none"/>
<path d="M249.28 213.65L252.38 213.65L250.83 210.86Z" fill="#1eb41e"/>
<path d="M261.94 214.89V222.33M260.34 214.89H263.55M260.34 222.33H263.55" stroke="#1eb41e" stroke-width="1.15" fill="none"/>
<path d="M260.39 219.85L263.50 219.85L261.94 217.06Z" fill="#1eb41e"/>
<path d="M273.06 219.48V224.44M271.46 219.48H274.66M271.46 224.44H274.66" stroke="#1eb41e" stroke-width="1.15" fill="none"/>
<path d="M271.51 223.20L274.61 223.20L273.06 220.40Z" fill="#1eb41e"/>
<path d="M284.18 226.42V236.34M282.57 226.42H285.78M282.57 236.34H285.78" stroke="#1eb41e" stroke-width="1.15" fill="none"/>
<path d="M282.62 232.62L285.73 232.62L284.18 229.83Z" fill="#1eb41e"/>
<path d="M295.29 220.72V225.68M293.69 220.72H296.89M293.69 225.68H296.89" stroke="#1eb41e" stroke-width="1.15" fill="none"/>
<path d="M293.74 224.44L296.84 224.44L295.29 221.64Z" fill="#1eb41e"/>
<path d="M306.40 227.04V232.00M304.80 227.04H308.00M304.80 232.00H308.00" stroke="#1eb41e" stroke-width="1.15" fill="none"/>
<path d="M304.85 230.76L307.96 230.76L306.40 227.97Z" fill="#1eb41e"/>
<path d="M317.52 233.12V240.56M315.92 233.12H319.12M315.92 240.56H319.12" stroke="#1eb41e" stroke-width="1.15" fill="none"/>
<path d="M315.97 238.08L319.07 238.08L317.52 235.28Z" fill="#1eb41e"/>
<path d="M328.63 231.75V234.23M327.03 231.75H330.24M327.03 234.23H330.24" stroke="#1eb41e" stroke-width="1.15" fill="none"/>
<path d="M327.08 234.23L330.19 234.23L328.63 231.44Z" fill="#1eb41e"/>
<path d="M339.75 232.62V240.06M338.15 232.62H341.35M338.15 240.06H341.35" stroke="#1eb41e" stroke-width="1.15" fill="none"/>
<path d="M338.20 237.58L341.30 237.58L339.75 234.79Z" fill="#1eb41e"/>
<path d="M333.20 171.80H340.00" stroke="#1a1ae6" stroke-width="0.8"/>
<circle cx="336.60" cy="171.80" r="1.35" fill="#1a1ae6"/>
<text x="343.40" y="173.89" font-size="5.8" text-anchor="start" font-weight="normal" font-family='"Liberation Sans", sans-serif' fill="#222" stroke="#222" stroke-width="0.35">1 P</text>
<path d="M333.20 178.60H340.00" stroke="#f03c46" stroke-width="0.8"/>
<rect x="335.25" y="177.25" width="2.70" height="2.70" fill="#f03c46"/>
<text x="343.40" y="180.69" font-size="5.8" text-anchor="start" font-weight="normal" font-family='"Liberation Sans", sans-serif' fill="#222" stroke="#222" stroke-width="0.35">1/4 P</text>
<path d="M333.20 185.40H340.00" stroke="#1eb41e" stroke-width="0.8"/>
<path d="M335.05 186.64L338.15 186.64L336.60 183.85Z" fill="#1eb41e"/>
<text x="343.40" y="187.49" font-size="5.8" text-anchor="start" font-weight="normal" font-family='"Liberation Sans", sans-serif' fill="#222" stroke="#222" stroke-width="0.35">1/16 P</text>
<text x="211.20" y="199.50" font-size="4.6" text-anchor="middle" font-weight="normal" font-family='"Liberation Sans", sans-serif' fill="#111" stroke="#111" stroke-width="0.3" textLength="77" lengthAdjust="spacingAndGlyphs" transform="rotate(-90 211.20 199.50)">Cell P concentration (µmol L<tspan dy="-1.6" font-size="3.4"> -1</tspan><tspan dy="1.6"> cell</tspan><tspan dy="-1.6" font-size="3.4"> -1</tspan><tspan dy="1.6"> )</tspan></text>
<path d="M44.20 296.70V391.50H157.56" fill="none" stroke="#111" stroke-width="1.0"/>
<path d="M42.60 391.50H44.20" stroke="#111" stroke-width="1.0"/>
<text x="42.00" y="393.26" font-size="4.9" text-anchor="end" font-weight="normal" font-family='"Liberation Sans", sans-serif' fill="#222" stroke="#222" stroke-width="0.35">0</text>
<path d="M42.60 375.70H44.20" stroke="#111" stroke-width="1.0"/>
<text x="42.00" y="377.46" font-size="4.9" text-anchor="end" font-weight="normal" font-family='"Liberation Sans", sans-serif' fill="#222" stroke="#222" stroke-width="0.35">50</text>
<path d="M42.60 359.90H44.20" stroke="#111" stroke-width="1.0"/>
<text x="42.00" y="361.66" font-size="4.9" text-anchor="end" font-weight="normal" font-family='"Liberation Sans", sans-serif' fill="#222" stroke="#222" stroke-width="0.35">100</text>
<path d="M42.60 344.10H44.20" stroke="#111" stroke-width="1.0"/>
<text x="42.00" y="345.86" font-size="4.9" text-anchor="end" font-weight="normal" font-family='"Liberation Sans", sans-serif' fill="#222" stroke="#222" stroke-width="0.35">150</text>
<path d="M42.60 328.30H44.20" stroke="#111" stroke-width="1.0"/>
<text x="42.00" y="330.06" font-size="4.9" text-anchor="end" font-weight="normal" font-family='"Liberation Sans", sans-serif' fill="#222" stroke="#222" stroke-width="0.35">200</text>
<path d="M42.60 312.50H44.20" stroke="#111" stroke-width="1.0"/>
<text x="42.00" y="314.26" font-size="4.9" text-anchor="end" font-weight="normal" font-family='"Liberation Sans", sans-serif' fill="#222" stroke="#222" stroke-width="0.35">250</text>
<path d="M42.60 296.70H44.20" stroke="#111" stroke-width="1.0"/>
<text x="42.00" y="298.46" font-size="4.9" text-anchor="end" font-weight="normal" font-family='"Liberation Sans", sans-serif' fill="#222" stroke="#222" stroke-width="0.35">300</text>
<path d="M44.20 391.50V393.10" stroke="#111" stroke-width="1.0"/>
<text x="44.20" y="398.76" font-size="4.9" text-anchor="middle" font-weight="normal" font-family='"Liberation Sans", sans-serif' fill="#222" stroke="#222" stroke-width="0.35">0</text>
<path d="M54.51 391.50V393.10" stroke="#111" stroke-width="1.0"/>
<text x="54.51" y="398.76" font-size="4.9" text-anchor="middle" font-weight="normal" font-family='"Liberation Sans", sans-serif' fill="#222" stroke="#222" stroke-width="0.35">3</text>
<path d="M64.81 391.50V393.10" stroke="#111" stroke-width="1.0"/>
<text x="64.81" y="398.76" font-size="4.9" text-anchor="middle" font-weight="normal" font-family='"Liberation Sans", sans-serif' fill="#222" stroke="#222" stroke-width="0.35">6</text>
<path d="M75.12 391.50V393.10" stroke="#111" stroke-width="1.0"/>
<text x="75.12" y="398.76" font-size="4.9" text-anchor="middle" font-weight="normal" font-family='"Liberation Sans", sans-serif' fill="#222" stroke="#222" stroke-width="0.35">9</text>
<path d="M85.42 391.50V393.10" stroke="#111" stroke-width="1.0"/>
<text x="85.42" y="398.76" font-size="4.9" text-anchor="middle" font-weight="normal" font-family='"Liberation Sans", sans-serif' fill="#222" stroke="#222" stroke-width="0.35">12</text>
<path d="M95.72 391.50V393.10" stroke="#111" stroke-width="1.0"/>
<text x="95.72" y="398.76" font-size="4.9" text-anchor="middle" font-weight="normal" font-family='"Liberation Sans", sans-serif' fill="#222" stroke="#222" stroke-width="0.35">15</text>
<path d="M106.03 391.50V393.10" stroke="#111" stroke-width="1.0"/>
<text x="106.03" y="398.76" font-size="4.9" text-anchor="middle" font-weight="normal" font-family='"Liberation Sans", sans-serif' fill="#222" stroke="#222" stroke-width="0.35">18</text>
<path d="M116.34 391.50V393.10" stroke="#111" stroke-width="1.0"/>
<text x="116.34" y="398.76" font-size="4.9" text-anchor="middle" font-weight="normal" font-family='"Liberation Sans", sans-serif' fill="#222" stroke="#222" stroke-width="0.35">21</text>
<path d="M126.64 391.50V393.10" stroke="#111" stroke-width="1.0"/>
<text x="126.64" y="398.76" font-size="4.9" text-anchor="middle" font-weight="normal" font-family='"Liberation Sans", sans-serif' fill="#222" stroke="#222" stroke-width="0.35">24</text>
<path d="M136.94 391.50V393.10" stroke="#111" stroke-width="1.0"/>
<text x="136.94" y="398.76" font-size="4.9" text-anchor="middle" font-weight="normal" font-family='"Liberation Sans", sans-serif' fill="#222" stroke="#222" stroke-width="0.35">27</text>
<path d="M147.25 391.50V393.10" stroke="#111" stroke-width="1.0"/>
<text x="147.25" y="398.76" font-size="4.9" text-anchor="middle" font-weight="normal" font-family='"Liberation Sans", sans-serif' fill="#222" stroke="#222" stroke-width="0.35">30</text>
<path d="M157.56 391.50V393.10" stroke="#111" stroke-width="1.0"/>
<text x="157.56" y="398.76" font-size="4.9" text-anchor="middle" font-weight="normal" font-family='"Liberation Sans", sans-serif' fill="#222" stroke="#222" stroke-width="0.35">33</text>
<text x="100.88" y="405.89" font-size="5.8" text-anchor="middle" font-weight="normal" font-family='"Liberation Sans", sans-serif' fill="#111" stroke="#111" stroke-width="0.35" textLength="13.22" lengthAdjust="spacingAndGlyphs">days</text>
<text x="3.60" y="289.60" font-size="7.9" text-anchor="start" font-weight="bold" font-family='"Liberation Serif", serif' fill="#111" stroke="#111" stroke-width="0.12">E</text>
<path d="M44.20 383.92L54.51 386.13L64.81 386.13L75.12 387.39L85.42 384.55L95.72 380.12L106.03 376.40L116.34 370.20L126.64 373.49L136.94 372.89L147.25 374.21" fill="none" stroke="#1a1ae6" stroke-width="0.8" stroke-linejoin="round"/>
<path d="M44.20 385.18L54.51 386.13L64.81 386.13L75.12 386.76L85.42 383.60L95.72 373.49L106.03 373.01L116.34 365.40L126.64 366.31L136.94 366.92L147.25 367.39" fill="none" stroke="#f03c46" stroke-width="0.8" stroke-linejoin="round"/>
<path d="M44.20 385.81L54.51 386.76L64.81 379.81L75.12 381.07L85.42 382.02L95.72 368.12L106.03 373.49L116.34 368.12L126.64 364.64L136.94 358.64L147.25 310.92" fill="none" stroke="#1eb41e" stroke-width="0.8" stroke-linejoin="round"/>
<path d="M44.20 381.39V386.44M42.60 381.39H45.80M42.60 386.44H45.80" stroke="#1a1ae6" stroke-width="1.15" fill="none"/>
<circle cx="44.20" cy="383.92" r="1.35" fill="#1a1ae6"/>
<path d="M54.51 384.55V387.71M52.91 384.55H56.11M52.91 387.71H56.11" stroke="#1a1ae6" stroke-width="1.15" fill="none"/>
<circle cx="54.51" cy="386.13" r="1.35" fill="#1a1ae6"/>
<path d="M64.81 384.86V387.39M63.21 384.86H66.41M63.21 387.39H66.41" stroke="#1a1ae6" stroke-width="1.15" fill="none"/>
<circle cx="64.81" cy="386.13" r="1.35" fill="#1a1ae6"/>
<path d="M75.12 386.44V388.34M73.52 386.44H76.72M73.52 388.34H76.72" stroke="#1a1ae6" stroke-width="1.15" fill="none"/>
<circle cx="75.12" cy="387.39" r="1.35" fill="#1a1ae6"/>
<path d="M85.42 382.34V386.76M83.82 382.34H87.02M83.82 386.76H87.02" stroke="#1a1ae6" stroke-width="1.15" fill="none"/>
<circle cx="85.42" cy="384.55" r="1.35" fill="#1a1ae6"/>
<path d="M95.72 378.23V382.02M94.12 378.23H97.32M94.12 382.02H97.32" stroke="#1a1ae6" stroke-width="1.15" fill="none"/>
<circle cx="95.72" cy="380.12" r="1.35" fill="#1a1ae6"/>
<path d="M106.03 374.50V378.29M104.43 374.50H107.63M104.43 378.29H107.63" stroke="#1a1ae6" stroke-width="1.15" fill="none"/>
<circle cx="106.03" cy="376.40" r="1.35" fill="#1a1ae6"/>
<path d="M116.34 368.31V372.10M114.74 368.31H117.94M114.74 372.10H117.94" stroke="#1a1ae6" stroke-width="1.15" fill="none"/>
<circle cx="116.34" cy="370.20" r="1.35" fill="#1a1ae6"/>
<path d="M126.64 370.33V376.65M125.04 370.33H128.24M125.04 376.65H128.24" stroke="#1a1ae6" stroke-width="1.15" fill="none"/>
<circle cx="126.64" cy="373.49" r="1.35" fill="#1a1ae6"/>
<path d="M136.94 370.68V375.10M135.34 370.68H138.54M135.34 375.10H138.54" stroke="#1a1ae6" stroke-width="1.15" fill="none"/>
<circle cx="136.94" cy="372.89" r="1.35" fill="#1a1ae6"/>
<path d="M147.25 368.53V379.90M145.65 368.53H148.85M145.65 379.90H148.85" stroke="#1a1ae6" stroke-width="1.15" fill="none"/>
<circle cx="147.25" cy="374.21" r="1.35" fill="#1a1ae6"/>
<path d="M44.20 382.02V388.34M42.60 382.02H45.80M42.60 388.34H45.80" stroke="#f03c46" stroke-width="1.15" fill="none"/>
<rect x="42.85" y="383.83" width="2.70" height="2.70" fill="#f03c46"/>
<path d="M54.51 384.55V387.71M52.91 384.55H56.11M52.91 387.71H56.11" stroke="#f03c46" stroke-width="1.15" fill="none"/>
<rect x="53.16" y="384.78" width="2.70" height="2.70" fill="#f03c46"/>
<path d="M64.81 384.55V387.71M63.21 384.55H66.41M63.21 387.71H66.41" stroke="#f03c46" stroke-width="1.15" fill="none"/>
<rect x="63.46" y="384.78" width="2.70" height="2.70" fill="#f03c46"/>
<path d="M75.12 385.50V388.02M73.52 385.50H76.72M73.52 388.02H76.72" stroke="#f03c46" stroke-width="1.15" fill="none"/>
<rect x="73.77" y="385.41" width="2.70" height="2.70" fill="#f03c46"/>
<path d="M85.42 382.34V384.86M83.82 382.34H87.02M83.82 384.86H87.02" stroke="#f03c46" stroke-width="1.15" fill="none"/>
<rect x="84.07" y="382.25" width="2.70" height="2.70" fill="#f03c46"/>
<path d="M95.72 370.96V376.02M94.12 370.96H97.32M94.12 376.02H97.32" stroke="#f03c46" stroke-width="1.15" fill="none"/>
<rect x="94.38" y="372.14" width="2.70" height="2.70" fill="#f03c46"/>
<path d="M106.03 369.85V376.17M104.43 369.85H107.63M104.43 376.17H107.63" stroke="#f03c46" stroke-width="1.15" fill="none"/>
<rect x="104.68" y="371.66" width="2.70" height="2.70" fill="#f03c46"/>
<path d="M116.34 360.66V370.14M114.74 360.66H117.94M114.74 370.14H117.94" stroke="#f03c46" stroke-width="1.15" fill="none"/>
<rect x="114.99" y="364.05" width="2.70" height="2.70" fill="#f03c46"/>
<path d="M126.64 364.42V368.21M125.04 364.42H128.24M125.04 368.21H128.24" stroke="#f03c46" stroke-width="1.15" fill="none"/>
<rect x="125.29" y="364.96" width="2.70" height="2.70" fill="#f03c46"/>
<path d="M136.94 365.65V368.18M135.34 365.65H138.54M135.34 368.18H138.54" stroke="#f03c46" stroke-width="1.15" fill="none"/>
<rect x="135.59" y="365.57" width="2.70" height="2.70" fill="#f03c46"/>
<path d="M147.25 364.86V369.92M145.65 364.86H148.85M145.65 369.92H148.85" stroke="#f03c46" stroke-width="1.15" fill="none"/>
<rect x="145.90" y="366.04" width="2.70" height="2.70" fill="#f03c46"/>
<path d="M44.20 383.92V387.71M42.60 383.92H45.80M42.60 387.71H45.80" stroke="#1eb41e" stroke-width="1.15" fill="none"/>
<path d="M42.65 387.05L45.75 387.05L44.20 384.26Z" fill="#1eb41e"/>
<path d="M54.51 384.55V388.97M52.91 384.55H56.11M52.91 388.97H56.11" stroke="#1eb41e" stroke-width="1.15" fill="none"/>
<path d="M52.95 388.00L56.06 388.00L54.51 385.21Z" fill="#1eb41e"/>
<path d="M64.81 378.23V381.39M63.21 378.23H66.41M63.21 381.39H66.41" stroke="#1eb41e" stroke-width="1.15" fill="none"/>
<path d="M63.26 381.05L66.36 381.05L64.81 378.26Z" fill="#1eb41e"/>
<path d="M75.12 377.91V384.23M73.52 377.91H76.72M73.52 384.23H76.72" stroke="#1eb41e" stroke-width="1.15" fill="none"/>
<path d="M73.56 382.31L76.67 382.31L75.12 379.52Z" fill="#1eb41e"/>
<path d="M85.42 380.12V383.92M83.82 380.12H87.02M83.82 383.92H87.02" stroke="#1eb41e" stroke-width="1.15" fill="none"/>
<path d="M83.87 383.26L86.97 383.26L85.42 380.47Z" fill="#1eb41e"/>
<path d="M95.72 364.96V371.28M94.12 364.96H97.32M94.12 371.28H97.32" stroke="#1eb41e" stroke-width="1.15" fill="none"/>
<path d="M94.17 369.36L97.28 369.36L95.72 366.56Z" fill="#1eb41e"/>
<path d="M106.03 370.96V376.02M104.43 370.96H107.63M104.43 376.02H107.63" stroke="#1eb41e" stroke-width="1.15" fill="none"/>
<path d="M104.48 374.73L107.58 374.73L106.03 371.94Z" fill="#1eb41e"/>
<path d="M116.34 365.59V370.64M114.74 365.59H117.94M114.74 370.64H117.94" stroke="#1eb41e" stroke-width="1.15" fill="none"/>
<path d="M114.78 369.36L117.89 369.36L116.34 366.56Z" fill="#1eb41e"/>
<path d="M126.64 358.32V370.96M125.04 358.32H128.24M125.04 370.96H128.24" stroke="#1eb41e" stroke-width="1.15" fill="none"/>
<path d="M125.09 365.88L128.19 365.88L126.64 363.09Z" fill="#1eb41e"/>
<path d="M136.94 353.90V363.38M135.34 353.90H138.54M135.34 363.38H138.54" stroke="#1eb41e" stroke-width="1.15" fill="none"/>
<path d="M135.39 359.88L138.50 359.88L136.94 357.08Z" fill="#1eb41e"/>
<path d="M147.25 302.07V319.77M145.65 302.07H148.85M145.65 319.77H148.85" stroke="#1eb41e" stroke-width="1.15" fill="none"/>
<path d="M145.70 312.16L148.80 312.16L147.25 309.37Z" fill="#1eb41e"/>
<path d="M51.20 299.30H58.00" stroke="#1a1ae6" stroke-width="0.8"/>
<circle cx="54.60" cy="299.30" r="1.35" fill="#1a1ae6"/>
<text x="61.80" y="301.24" font-size="5.4" text-anchor="start" font-weight="normal" font-family='"Liberation Sans", sans-serif' fill="#222" stroke="#222" stroke-width="0.35">1 P</text>
<path d="M51.20 306.10H58.00" stroke="#f03c46" stroke-width="0.8"/>
<rect x="53.25" y="304.75" width="2.70" height="2.70" fill="#f03c46"/>
<text x="61.80" y="308.04" font-size="5.4" text-anchor="start" font-weight="normal" font-family='"Liberation Sans", sans-serif' fill="#222" stroke="#222" stroke-width="0.35">1/4 P</text>
<path d="M51.20 312.40H58.00" stroke="#1eb41e" stroke-width="0.8"/>
<path d="M53.05 313.64L56.15 313.64L54.60 310.85Z" fill="#1eb41e"/>
<text x="61.80" y="314.34" font-size="5.4" text-anchor="start" font-weight="normal" font-family='"Liberation Sans", sans-serif' fill="#222" stroke="#222" stroke-width="0.35">1/16 P</text>
<text x="24.20" y="343.50" font-size="4.6" text-anchor="middle" font-weight="normal" font-family='"Liberation Sans", sans-serif' fill="#111" stroke="#111" stroke-width="0.3" textLength="69" lengthAdjust="spacingAndGlyphs" transform="rotate(-90 24.20 343.50)">Alkaline phosphatase activity</text>
<text x="30.00" y="340.00" font-size="4.6" text-anchor="middle" font-weight="normal" font-family='"Liberation Sans", sans-serif' fill="#111" stroke="#111" stroke-width="0.3" textLength="60" lengthAdjust="spacingAndGlyphs" transform="rotate(-90 30.00 340.00)">(10<tspan dy="-1.6" font-size="3.4"> -4</tspan><tspan dy="1.6"> U cell</tspan><tspan dy="-1.6" font-size="3.4"> -1</tspan><tspan dy="1.6"> mL</tspan><tspan dy="-1.6" font-size="3.4"> -1</tspan><tspan dy="1.6"> min</tspan><tspan dy="-1.6" font-size="3.4"> -1</tspan><tspan dy="1.6"> )</tspan></text>
<path d="M228.60 297.04V394.80H341.79" fill="none" stroke="#111" stroke-width="1.0"/>
<path d="M227.00 394.80H228.60" stroke="#111" stroke-width="1.0"/>
<text x="226.40" y="396.51" font-size="4.75" text-anchor="end" font-weight="normal" font-family='"Liberation Sans", sans-serif' fill="#222" stroke="#222" stroke-width="0.35">0</text>
<path d="M227.00 382.58H228.60" stroke="#111" stroke-width="1.0"/>
<text x="226.40" y="384.29" font-size="4.75" text-anchor="end" font-weight="normal" font-family='"Liberation Sans", sans-serif' fill="#222" stroke="#222" stroke-width="0.35">5000</text>
<path d="M227.00 370.36H228.60" stroke="#111" stroke-width="1.0"/>
<text x="226.40" y="372.07" font-size="4.75" text-anchor="end" font-weight="normal" font-family='"Liberation Sans", sans-serif' fill="#222" stroke="#222" stroke-width="0.35">10000</text>
<path d="M227.00 358.14H228.60" stroke="#111" stroke-width="1.0"/>
<text x="226.40" y="359.85" font-size="4.75" text-anchor="end" font-weight="normal" font-family='"Liberation Sans", sans-serif' fill="#222" stroke="#222" stroke-width="0.35">15000</text>
<path d="M227.00 345.92H228.60" stroke="#111" stroke-width="1.0"/>
<text x="226.40" y="347.63" font-size="4.75" text-anchor="end" font-weight="normal" font-family='"Liberation Sans", sans-serif' fill="#222" stroke="#222" stroke-width="0.35">20000</text>
<path d="M227.00 333.70H228.60" stroke="#111" stroke-width="1.0"/>
<text x="226.40" y="335.41" font-size="4.75" text-anchor="end" font-weight="normal" font-family='"Liberation Sans", sans-serif' fill="#222" stroke="#222" stroke-width="0.35">25000</text>
<path d="M227.00 321.48H228.60" stroke="#111" stroke-width="1.0"/>
<text x="226.40" y="323.19" font-size="4.75" text-anchor="end" font-weight="normal" font-family='"Liberation Sans", sans-serif' fill="#222" stroke="#222" stroke-width="0.35">30000</text>
<path d="M227.00 309.26H228.60" stroke="#111" stroke-width="1.0"/>
<text x="226.40" y="310.97" font-size="4.75" text-anchor="end" font-weight="normal" font-family='"Liberation Sans", sans-serif' fill="#222" stroke="#222" stroke-width="0.35">35000</text>
<path d="M227.00 297.04H228.60" stroke="#111" stroke-width="1.0"/>
<text x="226.40" y="298.75" font-size="4.75" text-anchor="end" font-weight="normal" font-family='"Liberation Sans", sans-serif' fill="#222" stroke="#222" stroke-width="0.35">40000</text>
<path d="M228.60 394.80V396.40" stroke="#111" stroke-width="1.0"/>
<text x="228.60" y="401.76" font-size="4.9" text-anchor="middle" font-weight="normal" font-family='"Liberation Sans", sans-serif' fill="#222" stroke="#222" stroke-width="0.35">0</text>
<path d="M238.89 394.80V396.40" stroke="#111" stroke-width="1.0"/>
<text x="238.89" y="401.76" font-size="4.9" text-anchor="middle" font-weight="normal" font-family='"Liberation Sans", sans-serif' fill="#222" stroke="#222" stroke-width="0.35">3</text>
<path d="M249.18 394.80V396.40" stroke="#111" stroke-width="1.0"/>
<text x="249.18" y="401.76" font-size="4.9" text-anchor="middle" font-weight="normal" font-family='"Liberation Sans", sans-serif' fill="#222" stroke="#222" stroke-width="0.35">6</text>
<path d="M259.47 394.80V396.40" stroke="#111" stroke-width="1.0"/>
<text x="259.47" y="401.76" font-size="4.9" text-anchor="middle" font-weight="normal" font-family='"Liberation Sans", sans-serif' fill="#222" stroke="#222" stroke-width="0.35">9</text>
<path d="M269.76 394.80V396.40" stroke="#111" stroke-width="1.0"/>
<text x="269.76" y="401.76" font-size="4.9" text-anchor="middle" font-weight="normal" font-family='"Liberation Sans", sans-serif' fill="#222" stroke="#222" stroke-width="0.35">12</text>
<path d="M280.05 394.80V396.40" stroke="#111" stroke-width="1.0"/>
<text x="280.05" y="401.76" font-size="4.9" text-anchor="middle" font-weight="normal" font-family='"Liberation Sans", sans-serif' fill="#222" stroke="#222" stroke-width="0.35">15</text>
<path d="M290.34 394.80V396.40" stroke="#111" stroke-width="1.0"/>
<text x="290.34" y="401.76" font-size="4.9" text-anchor="middle" font-weight="normal" font-family='"Liberation Sans", sans-serif' fill="#222" stroke="#222" stroke-width="0.35">18</text>
<path d="M300.63 394.80V396.40" stroke="#111" stroke-width="1.0"/>
<text x="300.63" y="401.76" font-size="4.9" text-anchor="middle" font-weight="normal" font-family='"Liberation Sans", sans-serif' fill="#222" stroke="#222" stroke-width="0.35">21</text>
<path d="M310.92 394.80V396.40" stroke="#111" stroke-width="1.0"/>
<text x="310.92" y="401.76" font-size="4.9" text-anchor="middle" font-weight="normal" font-family='"Liberation Sans", sans-serif' fill="#222" stroke="#222" stroke-width="0.35">24</text>
<path d="M321.21 394.80V396.40" stroke="#111" stroke-width="1.0"/>
<text x="321.21" y="401.76" font-size="4.9" text-anchor="middle" font-weight="normal" font-family='"Liberation Sans", sans-serif' fill="#222" stroke="#222" stroke-width="0.35">27</text>
<path d="M331.50 394.80V396.40" stroke="#111" stroke-width="1.0"/>
<text x="331.50" y="401.76" font-size="4.9" text-anchor="middle" font-weight="normal" font-family='"Liberation Sans", sans-serif' fill="#222" stroke="#222" stroke-width="0.35">30</text>
<path d="M341.79 394.80V396.40" stroke="#111" stroke-width="1.0"/>
<text x="341.79" y="401.76" font-size="4.9" text-anchor="middle" font-weight="normal" font-family='"Liberation Sans", sans-serif' fill="#222" stroke="#222" stroke-width="0.35">33</text>
<text x="285.19" y="409.06" font-size="6.0" text-anchor="middle" font-weight="normal" font-family='"Liberation Sans", sans-serif' fill="#111" stroke="#111" stroke-width="0.35" textLength="13.67" lengthAdjust="spacingAndGlyphs">days</text>
<text x="195.60" y="285.80" font-size="8.3" text-anchor="start" font-weight="bold" font-family='"Liberation Serif", serif' fill="#111" stroke="#111" stroke-width="0.12">F</text>
<path d="M228.60 386.25L238.89 375.25L249.18 363.52L259.47 356.18L269.76 342.25L280.05 342.25L290.34 331.09L300.63 320.67L310.92 316.97L321.21 307.06L331.50 305.11L341.79 305.11" fill="none" stroke="#1a1ae6" stroke-width="0.8" stroke-linejoin="round"/>
<path d="M228.60 386.25L238.89 372.80L249.18 363.52L259.47 363.03L269.76 348.43L280.05 336.51L290.34 336.51L300.63 322.38L310.92 333.10L321.21 330.30L331.50 334.80L341.79 337.30" fill="none" stroke="#f03c46" stroke-width="0.8" stroke-linejoin="round"/>
<path d="M228.60 385.02L238.89 370.36L249.18 370.36L259.47 371.96L269.76 367.75L280.05 365.75L290.34 367.75L300.63 359.14L310.92 373.27L321.21 368.26L331.50 373.97L341.79 381.88" fill="none" stroke="#1eb41e" stroke-width="0.8" stroke-linejoin="round"/>
<path d="M228.60 385.51V386.98M227.00 385.51H230.20M227.00 386.98H230.20" stroke="#1a1ae6" stroke-width="1.15" fill="none"/>
<circle cx="228.60" cy="386.25" r="1.35" fill="#1a1ae6"/>
<path d="M238.89 373.54V376.96M237.29 373.54H240.49M237.29 376.96H240.49" stroke="#1a1ae6" stroke-width="1.15" fill="none"/>
<circle cx="238.89" cy="375.25" r="1.35" fill="#1a1ae6"/>
<path d="M249.18 361.56V365.47M247.58 361.56H250.78M247.58 365.47H250.78" stroke="#1a1ae6" stroke-width="1.15" fill="none"/>
<circle cx="249.18" cy="363.52" r="1.35" fill="#1a1ae6"/>
<path d="M259.47 353.25V359.12M257.87 353.25H261.07M257.87 359.12H261.07" stroke="#1a1ae6" stroke-width="1.15" fill="none"/>
<circle cx="259.47" cy="356.18" r="1.35" fill="#1a1ae6"/>
<path d="M269.76 339.32V345.19M268.16 339.32H271.36M268.16 345.19H271.36" stroke="#1a1ae6" stroke-width="1.15" fill="none"/>
<circle cx="269.76" cy="342.25" r="1.35" fill="#1a1ae6"/>
<path d="M280.05 338.59V345.92M278.45 338.59H281.65M278.45 345.92H281.65" stroke="#1a1ae6" stroke-width="1.15" fill="none"/>
<circle cx="280.05" cy="342.25" r="1.35" fill="#1a1ae6"/>
<path d="M290.34 328.16V334.03M288.74 328.16H291.94M288.74 334.03H291.94" stroke="#1a1ae6" stroke-width="1.15" fill="none"/>
<circle cx="290.34" cy="331.09" r="1.35" fill="#1a1ae6"/>
<path d="M300.63 317.01V324.34M299.03 317.01H302.23M299.03 324.34H302.23" stroke="#1a1ae6" stroke-width="1.15" fill="none"/>
<circle cx="300.63" cy="320.67" r="1.35" fill="#1a1ae6"/>
<path d="M310.92 312.09V321.86M309.32 312.09H312.52M309.32 321.86H312.52" stroke="#1a1ae6" stroke-width="1.15" fill="none"/>
<circle cx="310.92" cy="316.97" r="1.35" fill="#1a1ae6"/>
<path d="M321.21 305.59V308.53M319.61 305.59H322.81M319.61 308.53H322.81" stroke="#1a1ae6" stroke-width="1.15" fill="none"/>
<circle cx="321.21" cy="307.06" r="1.35" fill="#1a1ae6"/>
<path d="M331.50 301.44V308.77M329.90 301.44H333.10M329.90 308.77H333.10" stroke="#1a1ae6" stroke-width="1.15" fill="none"/>
<circle cx="331.50" cy="305.11" r="1.35" fill="#1a1ae6"/>
<path d="M341.79 297.77V312.44M340.19 297.77H343.39M340.19 312.44H343.39" stroke="#1a1ae6" stroke-width="1.15" fill="none"/>
<circle cx="341.79" cy="305.11" r="1.35" fill="#1a1ae6"/>
<path d="M228.60 385.51V386.98M227.00 385.51H230.20M227.00 386.98H230.20" stroke="#f03c46" stroke-width="1.15" fill="none"/>
<rect x="227.25" y="384.90" width="2.70" height="2.70" fill="#f03c46"/>
<path d="M238.89 371.34V374.27M237.29 371.34H240.49M237.29 374.27H240.49" stroke="#f03c46" stroke-width="1.15" fill="none"/>
<rect x="237.54" y="371.45" width="2.70" height="2.70" fill="#f03c46"/>
<path d="M249.18 361.32V365.72M247.58 361.32H250.78M247.58 365.72H250.78" stroke="#f03c46" stroke-width="1.15" fill="none"/>
<rect x="247.83" y="362.17" width="2.70" height="2.70" fill="#f03c46"/>
<path d="M259.47 360.10V365.96M257.87 360.10H261.07M257.87 365.96H261.07" stroke="#f03c46" stroke-width="1.15" fill="none"/>
<rect x="258.12" y="361.68" width="2.70" height="2.70" fill="#f03c46"/>
<path d="M269.76 345.49V351.36M268.16 345.49H271.36M268.16 351.36H271.36" stroke="#f03c46" stroke-width="1.15" fill="none"/>
<rect x="268.41" y="347.08" width="2.70" height="2.70" fill="#f03c46"/>
<path d="M280.05 334.31V338.71M278.45 334.31H281.65M278.45 338.71H281.65" stroke="#f03c46" stroke-width="1.15" fill="none"/>
<rect x="278.70" y="335.16" width="2.70" height="2.70" fill="#f03c46"/>
<path d="M290.34 332.84V340.17M288.74 332.84H291.94M288.74 340.17H291.94" stroke="#f03c46" stroke-width="1.15" fill="none"/>
<rect x="288.99" y="335.16" width="2.70" height="2.70" fill="#f03c46"/>
<path d="M300.63 319.94V324.83M299.03 319.94H302.23M299.03 324.83H302.23" stroke="#f03c46" stroke-width="1.15" fill="none"/>
<rect x="299.28" y="321.03" width="2.70" height="2.70" fill="#f03c46"/>
<path d="M310.92 328.21V337.99M309.32 328.21H312.52M309.32 337.99H312.52" stroke="#f03c46" stroke-width="1.15" fill="none"/>
<rect x="309.57" y="331.75" width="2.70" height="2.70" fill="#f03c46"/>
<path d="M321.21 327.36V333.23M319.61 327.36H322.81M319.61 333.23H322.81" stroke="#f03c46" stroke-width="1.15" fill="none"/>
<rect x="319.86" y="328.95" width="2.70" height="2.70" fill="#f03c46"/>
<path d="M331.50 333.34V336.27M329.90 333.34H333.10M329.90 336.27H333.10" stroke="#f03c46" stroke-width="1.15" fill="none"/>
<rect x="330.15" y="333.45" width="2.70" height="2.70" fill="#f03c46"/>
<path d="M341.79 332.42V342.19M340.19 332.42H343.39M340.19 342.19H343.39" stroke="#f03c46" stroke-width="1.15" fill="none"/>
<rect x="340.44" y="335.95" width="2.70" height="2.70" fill="#f03c46"/>
<path d="M228.60 383.80V386.25M227.00 383.80H230.20M227.00 386.25H230.20" stroke="#1eb41e" stroke-width="1.15" fill="none"/>
<path d="M227.05 386.27L230.15 386.27L228.60 383.47Z" fill="#1eb41e"/>
<path d="M238.89 367.43V373.29M237.29 367.43H240.49M237.29 373.29H240.49" stroke="#1eb41e" stroke-width="1.15" fill="none"/>
<path d="M237.34 371.60L240.44 371.60L238.89 368.81Z" fill="#1eb41e"/>
<path d="M249.18 367.43V373.29M247.58 367.43H250.78M247.58 373.29H250.78" stroke="#1eb41e" stroke-width="1.15" fill="none"/>
<path d="M247.63 371.60L250.73 371.60L249.18 368.81Z" fill="#1eb41e"/>
<path d="M259.47 369.76V374.16M257.87 369.76H261.07M257.87 374.16H261.07" stroke="#1eb41e" stroke-width="1.15" fill="none"/>
<path d="M257.92 373.21L261.02 373.21L259.47 370.41Z" fill="#1eb41e"/>
<path d="M269.76 365.80V369.71M268.16 365.80H271.36M268.16 369.71H271.36" stroke="#1eb41e" stroke-width="1.15" fill="none"/>
<path d="M268.21 369.00L271.31 369.00L269.76 366.20Z" fill="#1eb41e"/>
<path d="M280.05 363.31V368.20M278.45 363.31H281.65M278.45 368.20H281.65" stroke="#1eb41e" stroke-width="1.15" fill="none"/>
<path d="M278.50 367.00L281.60 367.00L280.05 364.20Z" fill="#1eb41e"/>
<path d="M290.34 365.80V369.71M288.74 365.80H291.94M288.74 369.71H291.94" stroke="#1eb41e" stroke-width="1.15" fill="none"/>
<path d="M288.79 369.00L291.89 369.00L290.34 366.20Z" fill="#1eb41e"/>
<path d="M300.63 356.94V361.34M299.03 356.94H302.23M299.03 361.34H302.23" stroke="#1eb41e" stroke-width="1.15" fill="none"/>
<path d="M299.08 360.38L302.18 360.38L300.63 357.59Z" fill="#1eb41e"/>
<path d="M310.92 369.60V376.93M309.32 369.60H312.52M309.32 376.93H312.52" stroke="#1eb41e" stroke-width="1.15" fill="none"/>
<path d="M309.37 374.51L312.47 374.51L310.92 371.71Z" fill="#1eb41e"/>
<path d="M321.21 366.30V370.21M319.61 366.30H322.81M319.61 370.21H322.81" stroke="#1eb41e" stroke-width="1.15" fill="none"/>
<path d="M319.66 369.50L322.76 369.50L321.21 366.70Z" fill="#1eb41e"/>
<path d="M331.50 371.77V376.17M329.90 371.77H333.10M329.90 376.17H333.10" stroke="#1eb41e" stroke-width="1.15" fill="none"/>
<path d="M329.95 375.21L333.05 375.21L331.50 372.41Z" fill="#1eb41e"/>
<path d="M340.24 383.12L343.34 383.12L341.79 380.33Z" fill="#1eb41e"/>
<path d="M241.20 297.90H247.30" stroke="#1a1ae6" stroke-width="0.8"/>
<circle cx="244.25" cy="297.90" r="1.35" fill="#1a1ae6"/>
<text x="251.40" y="299.70" font-size="5.0" text-anchor="start" font-weight="normal" font-family='"Liberation Sans", sans-serif' fill="#222" stroke="#222" stroke-width="0.35">1 P</text>
<path d="M241.20 305.90H247.30" stroke="#f03c46" stroke-width="0.8"/>
<rect x="242.90" y="304.55" width="2.70" height="2.70" fill="#f03c46"/>
<text x="251.40" y="307.70" font-size="5.0" text-anchor="start" font-weight="normal" font-family='"Liberation Sans", sans-serif' fill="#222" stroke="#222" stroke-width="0.35">1/4 P</text>
<path d="M241.20 313.50H247.30" stroke="#1eb41e" stroke-width="0.8"/>
<path d="M242.70 314.74L245.80 314.74L244.25 311.95Z" fill="#1eb41e"/>
<text x="251.40" y="315.30" font-size="5.0" text-anchor="start" font-weight="normal" font-family='"Liberation Sans", sans-serif' fill="#222" stroke="#222" stroke-width="0.35">1/16 P</text>
<text x="205.30" y="345.10" font-size="7.6" text-anchor="middle" font-weight="bold" font-family='"Liberation Serif", serif' fill="#111" stroke="#111" stroke-width="0.3" font-style="italic" textLength="6.3" lengthAdjust="spacingAndGlyphs" transform="rotate(-90 205.30 345.10)">Ft</text>
<path d="M43.10 432.30V531.10H165.53" fill="none" stroke="#111" stroke-width="1.0"/>
<path d="M41.50 531.10H43.10" stroke="#111" stroke-width="1.0"/>
<text x="40.90" y="532.94" font-size="5.1" text-anchor="end" font-weight="normal" font-family='"Liberation Sans", sans-serif' fill="#222" stroke="#222" stroke-width="0.35">0.0</text>
<path d="M41.50 518.75H43.10" stroke="#111" stroke-width="1.0"/>
<text x="40.90" y="520.59" font-size="5.1" text-anchor="end" font-weight="normal" font-family='"Liberation Sans", sans-serif' fill="#222" stroke="#222" stroke-width="0.35">0.1</text>
<path d="M41.50 506.40H43.10" stroke="#111" stroke-width="1.0"/>
<text x="40.90" y="508.24" font-size="5.1" text-anchor="end" font-weight="normal" font-family='"Liberation Sans", sans-serif' fill="#222" stroke="#222" stroke-width="0.35">0.2</text>
<path d="M41.50 494.05H43.10" stroke="#111" stroke-width="1.0"/>
<text x="40.90" y="495.89" font-size="5.1" text-anchor="end" font-weight="normal" font-family='"Liberation Sans", sans-serif' fill="#222" stroke="#222" stroke-width="0.35">0.3</text>
<path d="M41.50 481.70H43.10" stroke="#111" stroke-width="1.0"/>
<text x="40.90" y="483.54" font-size="5.1" text-anchor="end" font-weight="normal" font-family='"Liberation Sans", sans-serif' fill="#222" stroke="#222" stroke-width="0.35">0.4</text>
<path d="M41.50 469.35H43.10" stroke="#111" stroke-width="1.0"/>
<text x="40.90" y="471.19" font-size="5.1" text-anchor="end" font-weight="normal" font-family='"Liberation Sans", sans-serif' fill="#222" stroke="#222" stroke-width="0.35">0.5</text>
<path d="M41.50 457.00H43.10" stroke="#111" stroke-width="1.0"/>
<text x="40.90" y="458.84" font-size="5.1" text-anchor="end" font-weight="normal" font-family='"Liberation Sans", sans-serif' fill="#222" stroke="#222" stroke-width="0.35">0.6</text>
<path d="M41.50 444.65H43.10" stroke="#111" stroke-width="1.0"/>
<text x="40.90" y="446.49" font-size="5.1" text-anchor="end" font-weight="normal" font-family='"Liberation Sans", sans-serif' fill="#222" stroke="#222" stroke-width="0.35">0.7</text>
<path d="M41.50 432.30H43.10" stroke="#111" stroke-width="1.0"/>
<text x="40.90" y="434.14" font-size="5.1" text-anchor="end" font-weight="normal" font-family='"Liberation Sans", sans-serif' fill="#222" stroke="#222" stroke-width="0.35">0.8</text>
<path d="M43.10 531.10V532.70" stroke="#111" stroke-width="1.0"/>
<text x="43.10" y="538.44" font-size="5.1" text-anchor="middle" font-weight="normal" font-family='"Liberation Sans", sans-serif' fill="#222" stroke="#222" stroke-width="0.35">0</text>
<path d="M54.23 531.10V532.70" stroke="#111" stroke-width="1.0"/>
<text x="54.23" y="538.44" font-size="5.1" text-anchor="middle" font-weight="normal" font-family='"Liberation Sans", sans-serif' fill="#222" stroke="#222" stroke-width="0.35">3</text>
<path d="M65.36 531.10V532.70" stroke="#111" stroke-width="1.0"/>
<text x="65.36" y="538.44" font-size="5.1" text-anchor="middle" font-weight="normal" font-family='"Liberation Sans", sans-serif' fill="#222" stroke="#222" stroke-width="0.35">6</text>
<path d="M76.49 531.10V532.70" stroke="#111" stroke-width="1.0"/>
<text x="76.49" y="538.44" font-size="5.1" text-anchor="middle" font-weight="normal" font-family='"Liberation Sans", sans-serif' fill="#222" stroke="#222" stroke-width="0.35">9</text>
<path d="M87.62 531.10V532.70" stroke="#111" stroke-width="1.0"/>
<text x="87.62" y="538.44" font-size="5.1" text-anchor="middle" font-weight="normal" font-family='"Liberation Sans", sans-serif' fill="#222" stroke="#222" stroke-width="0.35">12</text>
<path d="M98.75 531.10V532.70" stroke="#111" stroke-width="1.0"/>
<text x="98.75" y="538.44" font-size="5.1" text-anchor="middle" font-weight="normal" font-family='"Liberation Sans", sans-serif' fill="#222" stroke="#222" stroke-width="0.35">15</text>
<path d="M109.88 531.10V532.70" stroke="#111" stroke-width="1.0"/>
<text x="109.88" y="538.44" font-size="5.1" text-anchor="middle" font-weight="normal" font-family='"Liberation Sans", sans-serif' fill="#222" stroke="#222" stroke-width="0.35">18</text>
<path d="M121.01 531.10V532.70" stroke="#111" stroke-width="1.0"/>
<text x="121.01" y="538.44" font-size="5.1" text-anchor="middle" font-weight="normal" font-family='"Liberation Sans", sans-serif' fill="#222" stroke="#222" stroke-width="0.35">21</text>
<path d="M132.14 531.10V532.70" stroke="#111" stroke-width="1.0"/>
<text x="132.14" y="538.44" font-size="5.1" text-anchor="middle" font-weight="normal" font-family='"Liberation Sans", sans-serif' fill="#222" stroke="#222" stroke-width="0.35">24</text>
<path d="M143.27 531.10V532.70" stroke="#111" stroke-width="1.0"/>
<text x="143.27" y="538.44" font-size="5.1" text-anchor="middle" font-weight="normal" font-family='"Liberation Sans", sans-serif' fill="#222" stroke="#222" stroke-width="0.35">27</text>
<path d="M154.40 531.10V532.70" stroke="#111" stroke-width="1.0"/>
<text x="154.40" y="538.44" font-size="5.1" text-anchor="middle" font-weight="normal" font-family='"Liberation Sans", sans-serif' fill="#222" stroke="#222" stroke-width="0.35">30</text>
<path d="M165.53 531.10V532.70" stroke="#111" stroke-width="1.0"/>
<text x="165.53" y="538.44" font-size="5.1" text-anchor="middle" font-weight="normal" font-family='"Liberation Sans", sans-serif' fill="#222" stroke="#222" stroke-width="0.35">33</text>
<text x="104.31" y="545.45" font-size="5.7" text-anchor="middle" font-weight="normal" font-family='"Liberation Sans", sans-serif' fill="#111" stroke="#111" stroke-width="0.35" textLength="12.99" lengthAdjust="spacingAndGlyphs">days</text>
<text x="10.60" y="429.20" font-size="7.5" text-anchor="start" font-weight="bold" font-family='"Liberation Serif", serif' fill="#111" stroke="#111" stroke-width="0.12">G</text>
<path d="M43.10 495.53L54.23 472.44L65.36 470.83L76.49 461.94L87.62 455.52L98.75 459.47L109.88 461.57L121.01 464.16L132.14 469.35L143.27 467.25L154.40 473.30L165.53 477.25" fill="none" stroke="#1a1ae6" stroke-width="0.8" stroke-linejoin="round"/>
<path d="M43.10 489.97L54.23 475.65L65.36 465.65L76.49 458.24L87.62 452.92L98.75 459.47L109.88 462.56L121.01 464.16L132.14 468.12L143.27 468.61L154.40 473.80L165.53 478.98" fill="none" stroke="#f03c46" stroke-width="0.8" stroke-linejoin="round"/>
<path d="M43.10 491.58L54.23 471.82L65.36 468.12L76.49 460.71L87.62 455.52L98.75 459.47L109.88 466.88L121.01 466.88L132.14 479.85L143.27 470.71L154.40 484.29L165.53 506.52" fill="none" stroke="#1eb41e" stroke-width="0.8" stroke-linejoin="round"/>
<path d="M43.10 494.30V496.77M41.50 494.30H44.70M41.50 496.77H44.70" stroke="#1a1ae6" stroke-width="1.15" fill="none"/>
<circle cx="43.10" cy="495.53" r="1.35" fill="#1a1ae6"/>
<path d="M54.23 471.20V473.67M52.63 471.20H55.83M52.63 473.67H55.83" stroke="#1a1ae6" stroke-width="1.15" fill="none"/>
<circle cx="54.23" cy="472.44" r="1.35" fill="#1a1ae6"/>
<path d="M65.36 469.60V472.07M63.76 469.60H66.96M63.76 472.07H66.96" stroke="#1a1ae6" stroke-width="1.15" fill="none"/>
<circle cx="65.36" cy="470.83" r="1.35" fill="#1a1ae6"/>
<path d="M76.49 460.71V463.18M74.89 460.71H78.09M74.89 463.18H78.09" stroke="#1a1ae6" stroke-width="1.15" fill="none"/>
<circle cx="76.49" cy="461.94" r="1.35" fill="#1a1ae6"/>
<path d="M87.62 454.28V456.75M86.02 454.28H89.22M86.02 456.75H89.22" stroke="#1a1ae6" stroke-width="1.15" fill="none"/>
<circle cx="87.62" cy="455.52" r="1.35" fill="#1a1ae6"/>
<path d="M98.75 458.24V460.71M97.15 458.24H100.35M97.15 460.71H100.35" stroke="#1a1ae6" stroke-width="1.15" fill="none"/>
<circle cx="98.75" cy="459.47" r="1.35" fill="#1a1ae6"/>
<path d="M109.88 459.72V463.42M108.28 459.72H111.48M108.28 463.42H111.48" stroke="#1a1ae6" stroke-width="1.15" fill="none"/>
<circle cx="109.88" cy="461.57" r="1.35" fill="#1a1ae6"/>
<path d="M121.01 462.93V465.40M119.41 462.93H122.61M119.41 465.40H122.61" stroke="#1a1ae6" stroke-width="1.15" fill="none"/>
<circle cx="121.01" cy="464.16" r="1.35" fill="#1a1ae6"/>
<path d="M132.14 467.50V471.20M130.54 467.50H133.74M130.54 471.20H133.74" stroke="#1a1ae6" stroke-width="1.15" fill="none"/>
<circle cx="132.14" cy="469.35" r="1.35" fill="#1a1ae6"/>
<path d="M143.27 465.40V469.10M141.67 465.40H144.87M141.67 469.10H144.87" stroke="#1a1ae6" stroke-width="1.15" fill="none"/>
<circle cx="143.27" cy="467.25" r="1.35" fill="#1a1ae6"/>
<path d="M154.40 472.07V474.54M152.80 472.07H156.00M152.80 474.54H156.00" stroke="#1a1ae6" stroke-width="1.15" fill="none"/>
<circle cx="154.40" cy="473.30" r="1.35" fill="#1a1ae6"/>
<path d="M165.53 476.02V478.49M163.93 476.02H167.13M163.93 478.49H167.13" stroke="#1a1ae6" stroke-width="1.15" fill="none"/>
<circle cx="165.53" cy="477.25" r="1.35" fill="#1a1ae6"/>
<path d="M43.10 488.74V491.21M41.50 488.74H44.70M41.50 491.21H44.70" stroke="#f03c46" stroke-width="1.15" fill="none"/>
<rect x="41.75" y="488.62" width="2.70" height="2.70" fill="#f03c46"/>
<path d="M54.23 474.41V476.88M52.63 474.41H55.83M52.63 476.88H55.83" stroke="#f03c46" stroke-width="1.15" fill="none"/>
<rect x="52.88" y="474.30" width="2.70" height="2.70" fill="#f03c46"/>
<path d="M65.36 463.79V467.50M63.76 463.79H66.96M63.76 467.50H66.96" stroke="#f03c46" stroke-width="1.15" fill="none"/>
<rect x="64.01" y="464.30" width="2.70" height="2.70" fill="#f03c46"/>
<path d="M76.49 457.00V459.47M74.89 457.00H78.09M74.89 459.47H78.09" stroke="#f03c46" stroke-width="1.15" fill="none"/>
<rect x="75.14" y="456.88" width="2.70" height="2.70" fill="#f03c46"/>
<path d="M87.62 451.69V454.16M86.02 451.69H89.22M86.02 454.16H89.22" stroke="#f03c46" stroke-width="1.15" fill="none"/>
<rect x="86.27" y="451.57" width="2.70" height="2.70" fill="#f03c46"/>
<path d="M98.75 458.24V460.71M97.15 458.24H100.35M97.15 460.71H100.35" stroke="#f03c46" stroke-width="1.15" fill="none"/>
<rect x="97.40" y="458.12" width="2.70" height="2.70" fill="#f03c46"/>
<path d="M109.88 461.32V463.79M108.28 461.32H111.48M108.28 463.79H111.48" stroke="#f03c46" stroke-width="1.15" fill="none"/>
<rect x="108.53" y="461.21" width="2.70" height="2.70" fill="#f03c46"/>
<path d="M121.01 462.93V465.40M119.41 462.93H122.61M119.41 465.40H122.61" stroke="#f03c46" stroke-width="1.15" fill="none"/>
<rect x="119.66" y="462.81" width="2.70" height="2.70" fill="#f03c46"/>
<path d="M132.14 466.26V469.97M130.54 466.26H133.74M130.54 469.97H133.74" stroke="#f03c46" stroke-width="1.15" fill="none"/>
<rect x="130.79" y="466.76" width="2.70" height="2.70" fill="#f03c46"/>
<path d="M143.27 467.37V469.84M141.67 467.37H144.87M141.67 469.84H144.87" stroke="#f03c46" stroke-width="1.15" fill="none"/>
<rect x="141.92" y="467.26" width="2.70" height="2.70" fill="#f03c46"/>
<path d="M154.40 472.56V475.03M152.80 472.56H156.00M152.80 475.03H156.00" stroke="#f03c46" stroke-width="1.15" fill="none"/>
<rect x="153.05" y="472.45" width="2.70" height="2.70" fill="#f03c46"/>
<path d="M165.53 477.13V480.84M163.93 477.13H167.13M163.93 480.84H167.13" stroke="#f03c46" stroke-width="1.15" fill="none"/>
<rect x="164.18" y="477.63" width="2.70" height="2.70" fill="#f03c46"/>
<path d="M43.10 490.35V492.82M41.50 490.35H44.70M41.50 492.82H44.70" stroke="#1eb41e" stroke-width="1.15" fill="none"/>
<path d="M41.55 492.82L44.65 492.82L43.10 490.03Z" fill="#1eb41e"/>
<path d="M54.23 469.35V474.29M52.63 469.35H55.83M52.63 474.29H55.83" stroke="#1eb41e" stroke-width="1.15" fill="none"/>
<path d="M52.68 473.06L55.78 473.06L54.23 470.27Z" fill="#1eb41e"/>
<path d="M65.36 466.88V469.35M63.76 466.88H66.96M63.76 469.35H66.96" stroke="#1eb41e" stroke-width="1.15" fill="none"/>
<path d="M63.81 469.36L66.91 469.36L65.36 466.56Z" fill="#1eb41e"/>
<path d="M76.49 459.47V461.94M74.89 459.47H78.09M74.89 461.94H78.09" stroke="#1eb41e" stroke-width="1.15" fill="none"/>
<path d="M74.94 461.95L78.04 461.95L76.49 459.15Z" fill="#1eb41e"/>
<path d="M87.62 454.28V456.75M86.02 454.28H89.22M86.02 456.75H89.22" stroke="#1eb41e" stroke-width="1.15" fill="none"/>
<path d="M86.07 456.76L89.17 456.76L87.62 453.97Z" fill="#1eb41e"/>
<path d="M98.75 458.24V460.71M97.15 458.24H100.35M97.15 460.71H100.35" stroke="#1eb41e" stroke-width="1.15" fill="none"/>
<path d="M97.20 460.71L100.30 460.71L98.75 457.92Z" fill="#1eb41e"/>
<path d="M109.88 465.65V468.12M108.28 465.65H111.48M108.28 468.12H111.48" stroke="#1eb41e" stroke-width="1.15" fill="none"/>
<path d="M108.33 468.12L111.43 468.12L109.88 465.33Z" fill="#1eb41e"/>
<path d="M121.01 465.65V468.12M119.41 465.65H122.61M119.41 468.12H122.61" stroke="#1eb41e" stroke-width="1.15" fill="none"/>
<path d="M119.46 468.12L122.56 468.12L121.01 465.33Z" fill="#1eb41e"/>
<path d="M132.14 474.91V484.79M130.54 474.91H133.74M130.54 484.79H133.74" stroke="#1eb41e" stroke-width="1.15" fill="none"/>
<path d="M130.59 481.09L133.69 481.09L132.14 478.30Z" fill="#1eb41e"/>
<path d="M143.27 469.47V471.94M141.67 469.47H144.87M141.67 471.94H144.87" stroke="#1eb41e" stroke-width="1.15" fill="none"/>
<path d="M141.72 471.95L144.82 471.95L143.27 469.16Z" fill="#1eb41e"/>
<path d="M154.40 482.44V486.15M152.80 482.44H156.00M152.80 486.15H156.00" stroke="#1eb41e" stroke-width="1.15" fill="none"/>
<path d="M152.85 485.54L155.95 485.54L154.40 482.74Z" fill="#1eb41e"/>
<path d="M165.53 504.05V508.99M163.93 504.05H167.13M163.93 508.99H167.13" stroke="#1eb41e" stroke-width="1.15" fill="none"/>
<path d="M163.98 507.77L167.08 507.77L165.53 504.97Z" fill="#1eb41e"/>
<path d="M51.90 432.60H58.70" stroke="#1a1ae6" stroke-width="0.8"/>
<circle cx="55.30" cy="432.60" r="1.35" fill="#1a1ae6"/>
<text x="62.60" y="434.33" font-size="4.8" text-anchor="start" font-weight="normal" font-family='"Liberation Sans", sans-serif' fill="#222" stroke="#222" stroke-width="0.35">1 P</text>
<path d="M51.90 440.10H58.70" stroke="#f03c46" stroke-width="0.8"/>
<rect x="53.95" y="438.75" width="2.70" height="2.70" fill="#f03c46"/>
<text x="62.60" y="441.83" font-size="4.8" text-anchor="start" font-weight="normal" font-family='"Liberation Sans", sans-serif' fill="#222" stroke="#222" stroke-width="0.35">1/4 P</text>
<path d="M51.90 446.70H58.70" stroke="#1eb41e" stroke-width="0.8"/>
<path d="M53.75 447.94L56.85 447.94L55.30 445.15Z" fill="#1eb41e"/>
<text x="62.60" y="448.43" font-size="4.8" text-anchor="start" font-weight="normal" font-family='"Liberation Sans", sans-serif' fill="#222" stroke="#222" stroke-width="0.35">1/16 P</text>
<text x="25.80" y="481.00" font-size="6.6" text-anchor="middle" font-weight="bold" font-family='"Liberation Serif", serif' fill="#111" stroke="#111" stroke-width="0.2" font-style="italic" textLength="17.0" lengthAdjust="spacingAndGlyphs" transform="rotate(-90 25.80 481.00)">Fv/Fm</text>
</svg>
</body></html>
